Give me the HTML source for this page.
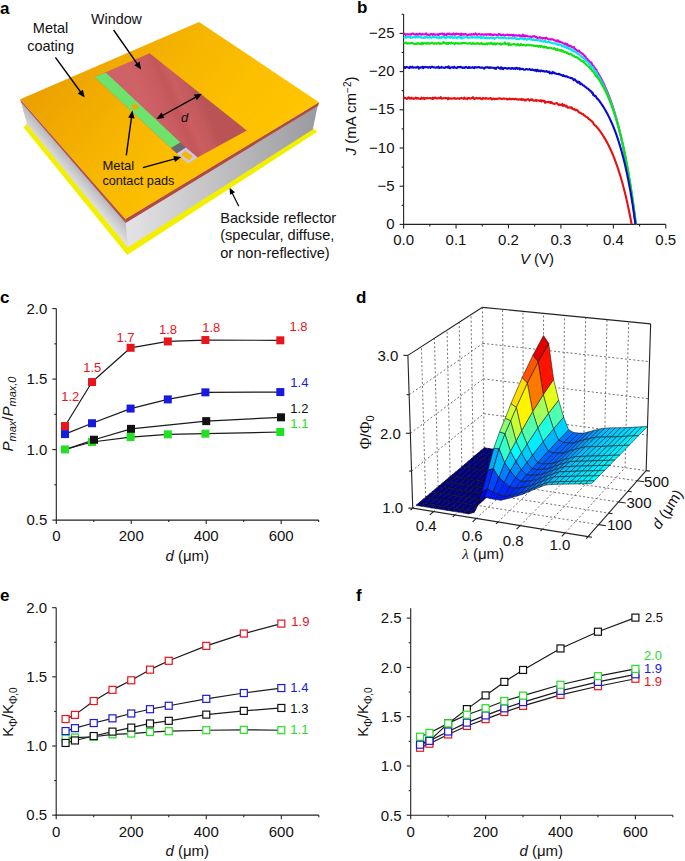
<!DOCTYPE html><html><head><meta charset="utf-8"><style>html,body{margin:0;padding:0;background:#fff;}svg{display:block;}</style></head><body>
<svg width="685" height="861" viewBox="0 0 685 861" font-family="'Liberation Sans', sans-serif">
<rect width="685" height="861" fill="#fff"/>
<defs>
<linearGradient id="gTop" x1="60" y1="60" x2="230" y2="200" gradientUnits="userSpaceOnUse">
 <stop offset="0" stop-color="#EBA100"/><stop offset="0.4" stop-color="#F6B400"/><stop offset="0.72" stop-color="#FDBF00"/><stop offset="1" stop-color="#FFC500"/></linearGradient>
<linearGradient id="gLeft" x1="73" y1="160" x2="58" y2="173" gradientUnits="userSpaceOnUse">
 <stop offset="0" stop-color="#b4b4b8"/><stop offset="0.4" stop-color="#cdcdd0"/><stop offset="1" stop-color="#ececee"/></linearGradient>
<linearGradient id="gRight" x1="0" y1="0" x2="1" y2="0">
 <stop offset="0" stop-color="#e4e4e6"/><stop offset="1" stop-color="#9a9a9e"/></linearGradient>
<linearGradient id="gWin" x1="148" y1="113" x2="199" y2="91" gradientUnits="userSpaceOnUse">
 <stop offset="0" stop-color="#CF6266"/><stop offset="0.35" stop-color="#C95C60"/><stop offset="0.5" stop-color="#C25659"/><stop offset="0.65" stop-color="#CA5E61"/><stop offset="0.85" stop-color="#C35A5D"/><stop offset="1" stop-color="#B95356"/></linearGradient>
</defs>
<polygon points="27.00,123.50 23.60,127.60 127.20,255.00 317.30,131.70 313.50,128.50" fill="#F2F000" stroke="none" stroke-width="0" />
<polygon points="124.80,219.00 319.00,102.20 317.60,106.20 312.80,129.50 127.40,247.80" fill="url(#gRight)" stroke="none" stroke-width="0" />
<polygon points="20.20,99.20 125.40,219.00 128.00,247.50 27.00,124.50" fill="url(#gLeft)" stroke="none" stroke-width="0" />
<polygon points="20.20,99.20 125.40,219.00 125.60,223.00 21.00,102.00" fill="#B5524A" stroke="none" stroke-width="0" />
<polygon points="125.40,219.00 319.00,102.20 318.20,105.80 125.60,223.00" fill="#B04A44" stroke="none" stroke-width="0" />
<polygon points="199.00,22.00 319.00,102.20 125.40,219.00 20.20,99.20" fill="url(#gTop)" stroke="none" stroke-width="0" />
<polygon points="94.60,77.10 149.60,53.20 246.80,130.60 197.60,157.40 176.80,153.40" fill="url(#gWin)" stroke="none" stroke-width="0" />
<polygon points="94.60,77.10 105.70,72.40 180.40,142.40 171.00,147.90" fill="#6DE36D" stroke="none" stroke-width="0" />
<polygon points="130.80,106.00 135.60,103.40 139.00,107.20 134.20,110.20" fill="#F2A800" stroke="none" stroke-width="0" />
<polygon points="171.00,147.90 180.40,142.40 185.80,147.40 176.80,153.20" fill="#6a6a6e" stroke="none" stroke-width="0" />
<polygon points="185.90,147.50 197.60,157.40 188.10,163.60 176.80,153.40" fill="#C9C8EE" stroke="none" stroke-width="0" />
<polygon points="185.00,150.80 193.00,156.00 189.00,160.40 181.20,154.80" fill="#F8B800" stroke="none" stroke-width="0" />
<line x1="55.40" y1="57.40" x2="81.17" y2="92.75" stroke="#000" stroke-width="1.4" />
<polygon points="84.70,97.60 77.70,93.42 82.87,89.65" fill="#000" stroke="none" stroke-width="0" />
<line x1="113.60" y1="30.00" x2="137.77" y2="64.68" stroke="#000" stroke-width="1.4" />
<polygon points="141.20,69.60 134.29,65.28 139.54,61.62" fill="#000" stroke="none" stroke-width="0" />
<line x1="161.65" y1="115.99" x2="196.65" y2="96.61" stroke="#000" stroke-width="1.4" />
<polygon points="201.90,93.70 196.89,100.13 193.79,94.53" fill="#000" stroke="none" stroke-width="0" />
<polygon points="156.40,118.90 164.51,118.07 161.41,112.47" fill="#000" stroke="none" stroke-width="0" />
<line x1="126.30" y1="155.30" x2="131.59" y2="116.54" stroke="#000" stroke-width="1.4" />
<polygon points="132.40,110.60 134.56,118.46 128.22,117.60" fill="#000" stroke="none" stroke-width="0" />
<line x1="142.90" y1="167.60" x2="175.62" y2="158.59" stroke="#000" stroke-width="1.4" />
<polygon points="181.40,157.00 175.02,162.08 173.32,155.91" fill="#000" stroke="none" stroke-width="0" />
<line x1="238.80" y1="206.20" x2="231.93" y2="192.45" stroke="#000" stroke-width="1.2" />
<polygon points="229.60,187.80 235.01,192.36 230.00,194.87" fill="#000" stroke="none" stroke-width="0" />
<text x="0.0" y="13.5" font-size="17" text-anchor="start" fill="#000" font-weight="bold" >a</text>
<text x="50.6" y="32.8" font-size="14.5" text-anchor="middle" fill="#111" >Metal</text>
<text x="50.6" y="51.0" font-size="14.5" text-anchor="middle" fill="#111" >coating</text>
<text x="116.5" y="23.6" font-size="14.3" text-anchor="middle" fill="#111" >Window</text>
<text x="184.5" y="122.0" font-size="13" text-anchor="middle" fill="#111" font-style="italic" >d</text>
<text x="102.4" y="169.8" font-size="13.0" text-anchor="start" fill="#111" >Metal</text>
<text x="102.4" y="184.9" font-size="12.7" text-anchor="start" fill="#111" >contact pads</text>
<text x="220.2" y="222.9" font-size="14.6" text-anchor="start" fill="#111" >Backside reflector</text>
<text x="220.2" y="240.3" font-size="14.6" text-anchor="start" fill="#111" >(specular, diffuse,</text>
<text x="220.2" y="257.7" font-size="14.6" text-anchor="start" fill="#111" >or non-reflective)</text>
<line x1="403.60" y1="14.30" x2="403.60" y2="224.90" stroke="#222" stroke-width="1.1" />
<line x1="403.10" y1="224.40" x2="665.80" y2="224.40" stroke="#222" stroke-width="1.1" />
<line x1="399.60" y1="224.40" x2="403.60" y2="224.40" stroke="#222" stroke-width="1.1" />
<line x1="401.60" y1="205.30" x2="403.60" y2="205.30" stroke="#222" stroke-width="1.1" />
<line x1="399.60" y1="186.20" x2="403.60" y2="186.20" stroke="#222" stroke-width="1.1" />
<line x1="401.60" y1="167.10" x2="403.60" y2="167.10" stroke="#222" stroke-width="1.1" />
<line x1="399.60" y1="148.00" x2="403.60" y2="148.00" stroke="#222" stroke-width="1.1" />
<line x1="401.60" y1="128.90" x2="403.60" y2="128.90" stroke="#222" stroke-width="1.1" />
<line x1="399.60" y1="109.80" x2="403.60" y2="109.80" stroke="#222" stroke-width="1.1" />
<line x1="401.60" y1="90.70" x2="403.60" y2="90.70" stroke="#222" stroke-width="1.1" />
<line x1="399.60" y1="71.60" x2="403.60" y2="71.60" stroke="#222" stroke-width="1.1" />
<line x1="401.60" y1="52.50" x2="403.60" y2="52.50" stroke="#222" stroke-width="1.1" />
<line x1="399.60" y1="33.40" x2="403.60" y2="33.40" stroke="#222" stroke-width="1.1" />
<line x1="401.60" y1="14.30" x2="403.60" y2="14.30" stroke="#222" stroke-width="1.1" />
<line x1="403.60" y1="224.40" x2="403.60" y2="228.40" stroke="#222" stroke-width="1.1" />
<line x1="429.82" y1="224.40" x2="429.82" y2="226.40" stroke="#222" stroke-width="1.1" />
<line x1="456.04" y1="224.40" x2="456.04" y2="228.40" stroke="#222" stroke-width="1.1" />
<line x1="482.26" y1="224.40" x2="482.26" y2="226.40" stroke="#222" stroke-width="1.1" />
<line x1="508.48" y1="224.40" x2="508.48" y2="228.40" stroke="#222" stroke-width="1.1" />
<line x1="534.70" y1="224.40" x2="534.70" y2="226.40" stroke="#222" stroke-width="1.1" />
<line x1="560.92" y1="224.40" x2="560.92" y2="228.40" stroke="#222" stroke-width="1.1" />
<line x1="587.14" y1="224.40" x2="587.14" y2="226.40" stroke="#222" stroke-width="1.1" />
<line x1="613.36" y1="224.40" x2="613.36" y2="228.40" stroke="#222" stroke-width="1.1" />
<line x1="639.58" y1="224.40" x2="639.58" y2="226.40" stroke="#222" stroke-width="1.1" />
<line x1="665.80" y1="224.40" x2="665.80" y2="228.40" stroke="#222" stroke-width="1.1" />
<text x="394.5" y="229.0" font-size="15" text-anchor="end" fill="#111" >0</text>
<text x="394.5" y="190.8" font-size="15" text-anchor="end" fill="#111" >−5</text>
<text x="394.5" y="152.6" font-size="15" text-anchor="end" fill="#111" >−10</text>
<text x="394.5" y="114.4" font-size="15" text-anchor="end" fill="#111" >−15</text>
<text x="394.5" y="76.2" font-size="15" text-anchor="end" fill="#111" >−20</text>
<text x="394.5" y="38.0" font-size="15" text-anchor="end" fill="#111" >−25</text>
<text x="403.6" y="245.2" font-size="15" text-anchor="middle" fill="#111" >0.0</text>
<text x="456.0" y="245.2" font-size="15" text-anchor="middle" fill="#111" >0.1</text>
<text x="508.5" y="245.2" font-size="15" text-anchor="middle" fill="#111" >0.2</text>
<text x="560.9" y="245.2" font-size="15" text-anchor="middle" fill="#111" >0.3</text>
<text x="613.4" y="245.2" font-size="15" text-anchor="middle" fill="#111" >0.4</text>
<text x="665.8" y="245.2" font-size="15" text-anchor="middle" fill="#111" >0.5</text>
<text x="537.0" y="264.4" font-size="15" text-anchor="middle" fill="#111" ><tspan font-style="italic">V</tspan> (V)</text>
<text transform="translate(355.6,116) rotate(-90)" font-size="15" text-anchor="middle" fill="#111"><tspan font-style="italic">J</tspan> (mA cm<tspan dy="-5" font-size="10">−2</tspan><tspan dy="5">)</tspan></text>
<text x="357.0" y="13.3" font-size="17" text-anchor="start" fill="#000" font-weight="bold" >b</text>
<polyline points="403.60,33.42 404.33,33.99 405.05,34.13 405.78,34.96 406.51,34.29 407.24,34.33 407.96,34.21 408.69,34.44 409.42,34.20 410.15,34.38 410.87,34.73 411.60,33.81 412.33,33.81 413.05,33.46 413.78,34.16 414.51,34.35 415.24,34.41 415.96,34.83 416.69,33.77 417.42,34.65 418.15,34.68 418.87,34.27 419.60,33.56 420.33,34.09 421.05,34.62 421.78,34.49 422.51,33.92 423.24,34.26 423.96,34.51 424.69,34.29 425.42,33.88 426.14,33.36 426.87,34.72 427.60,34.46 428.33,34.53 429.05,35.21 429.78,34.58 430.51,34.63 431.24,33.73 431.96,34.25 432.69,34.88 433.42,33.93 434.14,34.35 434.87,34.94 435.60,34.46 436.33,34.45 437.05,34.58 437.78,34.20 438.51,35.16 439.24,34.32 439.96,33.79 440.69,33.86 441.42,33.75 442.14,33.75 442.87,33.59 443.60,34.69 444.33,33.87 445.05,35.01 445.78,34.48 446.51,35.03 447.24,33.79 447.96,33.67 448.69,34.32 449.42,33.49 450.14,34.52 450.87,34.18 451.60,34.18 452.33,34.69 453.05,34.07 453.78,33.44 454.51,34.69 455.24,33.88 455.96,34.33 456.69,33.52 457.42,34.06 458.14,33.99 458.87,34.00 459.60,34.17 460.33,34.87 461.05,33.70 461.78,34.86 462.51,34.19 463.23,34.04 463.96,34.65 464.69,34.24 465.42,33.82 466.14,34.32 466.87,34.69 467.60,35.55 468.33,34.74 469.05,34.58 469.78,34.56 470.51,34.75 471.23,34.19 471.96,34.60 472.69,34.41 473.42,34.08 474.14,34.73 474.87,34.51 475.60,33.48 476.33,34.03 477.05,34.94 477.78,34.44 478.51,34.18 479.23,33.91 479.96,34.37 480.69,34.66 481.42,34.76 482.14,34.19 482.87,34.34 483.60,34.69 484.33,34.57 485.05,34.67 485.78,34.20 486.51,34.81 487.23,34.32 487.96,34.18 488.69,34.35 489.42,34.91 490.14,34.01 490.87,34.87 491.60,34.42 492.33,34.93 493.05,35.36 493.78,34.55 494.51,34.54 495.23,34.71 495.96,34.57 496.69,34.98 497.42,35.03 498.14,34.81 498.87,33.96 499.60,34.43 500.33,35.01 501.05,34.58 501.78,35.04 502.51,35.05 503.23,34.52 503.96,35.12 504.69,35.63 505.42,35.33 506.14,34.93 506.87,34.94 507.60,34.50 508.32,35.35 509.05,34.77 509.78,34.93 510.51,35.20 511.23,34.81 511.96,34.99 512.69,35.59 513.42,34.81 514.14,35.81 514.87,35.31 515.60,35.37 516.32,35.23 517.05,35.75 517.78,35.50 518.51,35.58 519.23,35.15 519.96,35.95 520.69,35.63 521.42,35.81 522.14,36.30 522.87,34.68 523.60,35.88 524.32,36.53 525.05,35.37 525.78,36.46 526.51,35.92 527.23,35.77 527.96,36.46 528.69,36.44 529.42,36.55 530.14,36.44 530.87,37.14 531.60,37.05 532.32,36.66 533.05,36.24 533.78,36.49 534.51,36.11 535.23,36.63 535.96,37.22 536.69,37.15 537.42,38.04 538.14,37.68 538.87,37.81 539.60,37.36 540.32,37.31 541.05,37.92 541.78,38.05 542.51,38.56 543.23,38.08 543.96,38.04 544.69,38.08 545.41,38.73 546.14,37.70 546.87,38.17 547.60,38.85 548.32,39.17 549.05,39.24 549.78,39.19 550.51,39.42 551.23,39.38 551.96,39.42 552.69,39.35 553.41,39.62 554.14,40.33 554.87,40.31 555.60,40.84 556.32,41.12 557.05,40.28 557.78,41.49 558.51,40.69 559.23,41.90 559.96,41.88 560.69,41.78 561.41,42.47 562.14,42.58 562.87,43.11 563.60,43.49 564.32,43.64 565.05,44.14 565.78,43.48 566.51,44.55 567.23,44.08 567.96,46.26 568.69,45.46 569.41,45.59 570.14,46.31 570.87,46.10 571.60,46.68 572.32,47.46 573.05,47.57 573.78,47.00 574.51,48.51 575.23,48.94 575.96,49.72 576.69,49.96 577.41,51.05 578.14,51.10 578.87,50.51 579.60,51.63 580.32,52.37 581.05,52.75 581.78,53.02 582.50,54.17 583.23,54.18 583.96,55.25 584.69,56.30 585.41,56.34 586.14,58.77 586.87,58.75 587.60,59.16 588.32,60.44 589.05,60.93 589.78,61.96 590.50,62.83 591.23,62.30 591.96,64.09 592.69,65.31 593.41,65.71 594.14,67.36 594.87,67.92 595.60,69.21 596.32,69.77 597.05,72.18 597.78,72.75 598.50,73.95 599.23,75.19 599.96,76.47 600.69,77.78 601.41,79.14 602.14,80.54 602.87,81.99 603.60,83.48 604.32,85.02 605.05,86.60 605.78,88.23 606.50,89.92 607.23,91.66 607.96,93.45 608.69,95.30 609.41,97.20 610.14,99.16 610.87,101.19 611.60,103.28 612.32,105.43 613.05,107.65 613.78,109.94 614.50,112.30 615.23,114.74 615.96,117.25 616.69,119.84 617.41,122.51 618.14,125.26 618.87,128.10 619.59,131.02 620.32,134.04 621.05,137.15 621.78,140.36 622.50,143.67 623.23,147.08 623.96,150.60 624.69,154.23 625.41,157.97 626.14,161.83 626.87,165.81 627.59,169.91 628.32,174.14 629.05,178.50 629.78,182.99 630.50,187.63 631.23,192.41 631.96,197.34 632.69,202.43 633.41,207.67 634.14,213.08 634.87,218.65 635.59,224.40" fill="none" stroke="#E000E0" stroke-width="2.1" stroke-linejoin="round" />
<polyline points="403.60,36.91 404.33,37.18 405.06,37.72 405.79,36.78 406.51,37.60 407.24,36.55 407.97,37.02 408.70,36.94 409.43,37.20 410.16,36.85 410.88,38.02 411.61,37.20 412.34,37.50 413.07,37.12 413.80,37.26 414.53,36.98 415.25,37.59 415.98,36.47 416.71,36.27 417.44,37.33 418.17,37.25 418.90,37.12 419.62,36.71 420.35,36.45 421.08,37.75 421.81,37.50 422.54,37.69 423.27,37.71 424.00,37.93 424.72,37.09 425.45,37.73 426.18,36.62 426.91,36.87 427.64,37.68 428.37,37.68 429.09,37.51 429.82,36.66 430.55,37.61 431.28,37.88 432.01,37.28 432.74,37.10 433.46,37.53 434.19,36.58 434.92,37.16 435.65,37.07 436.38,37.62 437.11,37.28 437.84,37.33 438.56,38.22 439.29,37.15 440.02,38.02 440.75,37.28 441.48,37.89 442.21,36.43 442.93,37.14 443.66,36.92 444.39,36.89 445.12,37.84 445.85,38.24 446.58,37.43 447.30,36.91 448.03,37.25 448.76,36.96 449.49,36.90 450.22,37.92 450.95,37.18 451.67,36.48 452.40,37.55 453.13,38.16 453.86,37.41 454.59,37.51 455.32,37.14 456.05,37.69 456.77,37.28 457.50,38.26 458.23,36.97 458.96,36.67 459.69,36.79 460.42,37.98 461.14,37.21 461.87,38.60 462.60,37.23 463.33,37.38 464.06,37.78 464.79,37.22 465.51,37.31 466.24,36.98 466.97,37.32 467.70,37.28 468.43,38.20 469.16,37.88 469.88,37.60 470.61,37.28 471.34,37.41 472.07,36.78 472.80,37.79 473.53,37.53 474.26,37.33 474.98,37.54 475.71,37.24 476.44,37.69 477.17,36.86 477.90,37.60 478.63,37.01 479.35,37.50 480.08,36.87 480.81,38.09 481.54,37.29 482.27,37.70 483.00,37.43 483.72,37.04 484.45,38.03 485.18,38.11 485.91,37.99 486.64,37.47 487.37,38.38 488.10,37.56 488.82,38.15 489.55,38.11 490.28,37.79 491.01,37.49 491.74,37.93 492.47,37.88 493.19,37.71 493.92,37.82 494.65,38.85 495.38,37.92 496.11,37.72 496.84,37.31 497.56,36.93 498.29,37.52 499.02,37.79 499.75,38.25 500.48,37.82 501.21,37.55 501.93,37.37 502.66,38.29 503.39,37.84 504.12,37.62 504.85,37.21 505.58,37.91 506.31,38.26 507.03,38.35 507.76,38.24 508.49,38.39 509.22,37.80 509.95,37.72 510.68,37.90 511.40,37.73 512.13,38.45 512.86,38.14 513.59,38.49 514.32,38.34 515.05,37.88 515.77,38.45 516.50,39.26 517.23,38.62 517.96,38.85 518.69,39.23 519.42,38.97 520.15,38.28 520.87,38.02 521.60,38.98 522.33,38.40 523.06,38.37 523.79,39.41 524.52,38.99 525.24,39.05 525.97,39.01 526.70,39.81 527.43,39.35 528.16,38.82 528.89,38.79 529.61,38.62 530.34,39.60 531.07,38.74 531.80,39.32 532.53,40.24 533.26,39.43 533.98,39.97 534.71,39.69 535.44,40.03 536.17,39.57 536.90,40.06 537.63,40.38 538.36,39.95 539.08,40.34 539.81,40.72 540.54,40.11 541.27,40.93 542.00,41.13 542.73,41.21 543.45,41.71 544.18,41.45 544.91,40.56 545.64,41.85 546.37,41.60 547.10,42.20 547.82,42.13 548.55,41.38 549.28,41.79 550.01,42.58 550.74,42.48 551.47,42.99 552.19,43.14 552.92,43.37 553.65,43.54 554.38,43.21 555.11,43.29 555.84,43.53 556.57,44.01 557.29,44.71 558.02,44.39 558.75,44.97 559.48,44.44 560.21,44.81 560.94,44.97 561.66,45.68 562.39,46.55 563.12,45.66 563.85,45.82 564.58,47.24 565.31,46.85 566.03,46.71 566.76,47.97 567.49,47.09 568.22,48.31 568.95,48.96 569.68,48.28 570.41,49.09 571.13,49.86 571.86,49.60 572.59,51.19 573.32,50.01 574.05,51.54 574.78,51.51 575.50,52.24 576.23,52.35 576.96,52.64 577.69,53.84 578.42,53.67 579.15,54.65 579.87,55.35 580.60,55.71 581.33,56.60 582.06,57.10 582.79,56.98 583.52,58.06 584.24,58.17 584.97,59.13 585.70,60.43 586.43,61.50 587.16,61.72 587.89,62.07 588.62,62.95 589.34,64.10 590.07,64.15 590.80,66.15 591.53,66.82 592.26,67.14 592.99,67.20 593.71,68.91 594.44,70.49 595.17,70.84 595.90,71.85 596.63,72.83 597.36,74.51 598.08,75.49 598.81,76.67 599.54,77.90 600.27,79.16 601.00,80.46 601.73,81.80 602.45,83.18 603.18,84.61 603.91,86.07 604.64,87.59 605.37,89.15 606.10,90.76 606.83,92.42 607.55,94.13 608.28,95.89 609.01,97.71 609.74,99.59 610.47,101.52 611.20,103.52 611.92,105.57 612.65,107.69 613.38,109.87 614.11,112.13 614.84,114.45 615.57,116.84 616.29,119.31 617.02,121.85 617.75,124.48 618.48,127.18 619.21,129.97 619.94,132.85 620.67,135.81 621.39,138.87 622.12,142.02 622.85,145.27 623.58,148.62 624.31,152.07 625.04,155.63 625.76,159.30 626.49,163.08 627.22,166.99 627.95,171.01 628.68,175.16 629.41,179.43 630.13,183.84 630.86,188.39 631.59,193.07 632.32,197.90 633.05,202.88 633.78,208.02 634.50,213.31 635.23,218.77 635.96,224.40" fill="none" stroke="#00E5F0" stroke-width="2.1" stroke-linejoin="round" />
<polyline points="403.60,43.68 404.33,43.29 405.06,43.17 405.79,42.67 406.51,42.47 407.24,43.65 407.97,43.56 408.70,43.37 409.43,43.45 410.16,43.14 410.88,43.14 411.61,43.24 412.34,42.78 413.07,43.41 413.80,43.79 414.53,44.00 415.25,43.78 415.98,43.79 416.71,44.14 417.44,43.07 418.17,43.27 418.90,43.53 419.62,43.73 420.35,44.02 421.08,43.74 421.81,42.58 422.54,44.28 423.27,43.30 423.99,43.04 424.72,43.30 425.45,43.49 426.18,43.03 426.91,43.82 427.64,43.13 428.36,42.76 429.09,43.80 429.82,43.71 430.55,43.31 431.28,42.95 432.01,42.80 432.73,43.08 433.46,43.65 434.19,43.84 434.92,43.27 435.65,43.20 436.38,43.83 437.10,43.35 437.83,43.23 438.56,42.94 439.29,43.79 440.02,43.14 440.75,43.87 441.47,43.56 442.20,43.42 442.93,42.75 443.66,41.99 444.39,43.28 445.12,43.18 445.84,42.97 446.57,43.96 447.30,43.07 448.03,43.92 448.76,42.71 449.49,42.79 450.21,43.19 450.94,43.74 451.67,42.71 452.40,43.30 453.13,43.37 453.86,43.17 454.58,44.14 455.31,43.24 456.04,43.00 456.77,43.28 457.50,43.37 458.23,43.83 458.95,43.16 459.68,43.35 460.41,43.44 461.14,43.68 461.87,43.09 462.60,42.93 463.32,43.29 464.05,43.08 464.78,42.90 465.51,42.80 466.24,43.37 466.97,43.56 467.69,43.65 468.42,43.48 469.15,43.26 469.88,43.10 470.61,43.68 471.34,43.44 472.06,43.93 472.79,42.98 473.52,43.68 474.25,43.37 474.98,43.83 475.71,43.66 476.43,43.83 477.16,42.83 477.89,43.40 478.62,43.63 479.35,43.97 480.08,43.83 480.80,43.35 481.53,42.89 482.26,44.20 482.99,43.99 483.72,43.69 484.45,43.89 485.17,44.33 485.90,43.64 486.63,43.34 487.36,44.33 488.09,43.59 488.82,43.28 489.54,43.28 490.27,43.88 491.00,42.75 491.73,43.50 492.46,44.09 493.19,43.34 493.91,44.24 494.64,43.41 495.37,44.33 496.10,43.48 496.83,44.07 497.56,43.37 498.28,43.55 499.01,43.69 499.74,43.87 500.47,43.45 501.20,44.68 501.93,43.76 502.65,43.79 503.38,43.75 504.11,43.66 504.84,42.47 505.57,44.00 506.30,43.73 507.02,44.03 507.75,43.45 508.48,44.99 509.21,43.45 509.94,44.48 510.67,45.17 511.39,44.70 512.12,44.35 512.85,44.22 513.58,44.35 514.31,44.02 515.04,44.41 515.76,44.45 516.49,45.36 517.22,44.29 517.95,44.11 518.68,44.75 519.41,45.40 520.13,45.21 520.86,43.98 521.59,44.98 522.32,45.05 523.05,45.16 523.78,44.58 524.50,45.16 525.23,45.33 525.96,45.64 526.69,45.11 527.42,44.70 528.15,45.23 528.87,44.86 529.60,45.21 530.33,45.29 531.06,45.34 531.79,45.46 532.52,45.11 533.24,45.41 533.97,45.92 534.70,45.70 535.43,45.86 536.16,45.70 536.89,45.91 537.61,45.90 538.34,46.78 539.07,46.08 539.80,45.78 540.53,46.99 541.26,45.85 541.98,46.50 542.71,46.81 543.44,47.59 544.17,46.48 544.90,47.46 545.63,47.38 546.35,47.05 547.08,47.84 547.81,47.95 548.54,48.15 549.27,47.84 550.00,47.69 550.72,47.91 551.45,48.05 552.18,48.52 552.91,48.47 553.64,48.98 554.37,48.02 555.09,48.95 555.82,50.03 556.55,49.84 557.28,48.91 558.01,50.35 558.74,50.16 559.46,50.01 560.19,50.86 560.92,50.17 561.65,50.14 562.38,51.42 563.11,50.84 563.83,51.94 564.56,52.24 565.29,51.98 566.02,52.26 566.75,52.89 567.48,52.57 568.20,53.84 568.93,53.89 569.66,54.30 570.39,53.86 571.12,54.18 571.85,54.58 572.58,55.77 573.30,55.54 574.03,55.78 574.76,57.05 575.49,57.12 576.22,56.92 576.95,57.33 577.67,57.96 578.40,58.30 579.13,58.87 579.86,59.43 580.59,60.04 581.32,60.88 582.04,61.16 582.77,61.78 583.50,61.20 584.23,62.66 584.96,63.38 585.69,64.10 586.41,64.69 587.14,65.42 587.87,65.77 588.60,66.72 589.33,67.10 590.06,68.49 590.78,68.82 591.51,69.41 592.24,71.09 592.97,71.39 593.70,72.24 594.43,73.39 595.15,74.39 595.88,75.94 596.61,75.67 597.34,77.58 598.07,78.25 598.80,79.35 599.52,80.48 600.25,81.65 600.98,82.86 601.71,84.10 602.44,85.39 603.17,86.72 603.89,88.09 604.62,89.50 605.35,90.96 606.08,92.46 606.81,94.02 607.54,95.62 608.26,97.28 608.99,98.99 609.72,100.75 610.45,102.58 611.18,104.46 611.91,106.40 612.63,108.41 613.36,110.48 614.09,112.62 614.82,114.83 615.55,117.12 616.28,119.48 617.00,121.91 617.73,124.43 618.46,127.03 619.19,129.72 619.92,132.49 620.65,135.36 621.37,138.33 622.10,141.39 622.83,144.56 623.56,147.84 624.29,151.22 625.02,154.72 625.74,158.34 626.47,162.08 627.20,165.96 627.93,169.96 628.66,174.10 629.39,178.39 630.11,182.82 630.84,187.41 631.57,192.16 632.30,197.07 633.03,202.16 633.76,207.43 634.48,212.89 635.21,218.54 635.94,224.40" fill="none" stroke="#10E010" stroke-width="2.1" stroke-linejoin="round" />
<polyline points="403.60,67.86 404.33,67.06 405.05,68.11 405.78,66.94 406.51,67.16 407.23,67.09 407.96,67.41 408.69,67.86 409.41,68.14 410.14,66.73 410.87,67.54 411.60,67.56 412.32,66.68 413.05,67.61 413.78,67.45 414.50,67.45 415.23,67.41 415.96,67.79 416.68,67.59 417.41,66.81 418.14,67.03 418.86,68.61 419.59,68.18 420.32,67.22 421.04,67.41 421.77,67.52 422.50,66.92 423.22,68.11 423.95,66.86 424.68,67.31 425.41,67.13 426.13,67.26 426.86,67.01 427.59,67.47 428.31,67.60 429.04,67.04 429.77,67.30 430.49,67.90 431.22,66.81 431.95,66.87 432.67,66.77 433.40,67.35 434.13,67.23 434.85,67.54 435.58,67.79 436.31,67.36 437.03,67.31 437.76,67.67 438.49,66.62 439.22,68.07 439.94,67.74 440.67,67.68 441.40,66.86 442.12,67.51 442.85,67.54 443.58,67.78 444.30,67.73 445.03,67.96 445.76,66.99 446.48,67.16 447.21,67.00 447.94,67.70 448.66,66.37 449.39,67.84 450.12,68.29 450.84,67.56 451.57,67.38 452.30,67.12 453.03,67.87 453.75,67.20 454.48,66.73 455.21,67.81 455.93,67.77 456.66,68.18 457.39,67.36 458.11,67.11 458.84,67.15 459.57,67.13 460.29,66.89 461.02,67.43 461.75,67.09 462.47,67.90 463.20,67.83 463.93,67.41 464.65,67.86 465.38,67.28 466.11,66.95 466.84,67.36 467.56,67.84 468.29,67.85 469.02,66.97 469.74,67.89 470.47,67.52 471.20,67.67 471.92,67.55 472.65,67.12 473.38,67.81 474.10,68.19 474.83,66.99 475.56,67.52 476.28,67.31 477.01,67.63 477.74,67.31 478.47,67.11 479.19,67.08 479.92,67.78 480.65,67.82 481.37,67.52 482.10,67.60 482.83,67.46 483.55,68.01 484.28,68.70 485.01,67.55 485.73,67.42 486.46,67.49 487.19,67.07 487.91,67.43 488.64,67.96 489.37,67.40 490.09,67.86 490.82,67.31 491.55,67.75 492.28,67.68 493.00,67.79 493.73,67.88 494.46,68.54 495.18,67.91 495.91,68.90 496.64,67.76 497.36,67.57 498.09,67.14 498.82,67.86 499.54,68.34 500.27,68.73 501.00,67.26 501.72,68.70 502.45,67.75 503.18,69.12 503.90,68.19 504.63,67.91 505.36,68.08 506.09,68.26 506.81,68.62 507.54,68.68 508.27,67.90 508.99,68.17 509.72,68.45 510.45,68.33 511.17,68.83 511.90,68.05 512.63,67.98 513.35,68.87 514.08,68.53 514.81,68.17 515.53,68.92 516.26,67.83 516.99,68.09 517.71,68.88 518.44,68.39 519.17,68.15 519.90,69.41 520.62,68.67 521.35,69.04 522.08,69.11 522.80,68.77 523.53,69.32 524.26,69.76 524.98,69.82 525.71,69.28 526.44,69.07 527.16,69.40 527.89,69.51 528.62,69.52 529.34,69.02 530.07,69.41 530.80,70.01 531.52,69.88 532.25,69.32 532.98,70.14 533.71,70.14 534.43,70.06 535.16,70.57 535.89,69.83 536.61,71.21 537.34,69.76 538.07,70.64 538.79,71.07 539.52,70.52 540.25,71.45 540.97,70.60 541.70,70.60 542.43,71.27 543.15,71.29 543.88,70.84 544.61,71.63 545.33,71.45 546.06,71.43 546.79,71.04 547.52,72.03 548.24,71.93 548.97,71.60 549.70,73.29 550.42,72.46 551.15,73.30 551.88,73.41 552.60,71.97 553.33,72.86 554.06,72.48 554.78,73.37 555.51,73.21 556.24,73.79 556.96,74.02 557.69,74.00 558.42,74.10 559.14,73.71 559.87,74.63 560.60,74.60 561.33,75.07 562.05,75.12 562.78,75.96 563.51,75.18 564.23,76.09 564.96,76.10 565.69,76.45 566.41,76.21 567.14,76.67 567.87,77.15 568.59,77.36 569.32,77.58 570.05,77.70 570.77,78.11 571.50,78.10 572.23,78.28 572.95,79.04 573.68,80.19 574.41,79.25 575.14,79.45 575.86,80.87 576.59,81.28 577.32,82.36 578.04,81.58 578.77,82.75 579.50,81.98 580.22,84.24 580.95,83.62 581.68,83.84 582.40,84.77 583.13,85.43 583.86,85.51 584.58,86.36 585.31,86.82 586.04,87.25 586.76,88.05 587.49,88.50 588.22,88.68 588.95,89.80 589.67,90.22 590.40,91.27 591.13,91.25 591.85,92.88 592.58,92.67 593.31,95.09 594.03,94.97 594.76,96.06 595.49,95.78 596.21,96.94 596.94,98.47 597.67,98.82 598.39,99.74 599.12,100.69 599.85,101.67 600.57,102.69 601.30,103.73 602.03,104.81 602.76,105.91 603.48,107.06 604.21,108.24 604.94,109.46 605.66,110.71 606.39,112.01 607.12,113.34 607.84,114.72 608.57,116.14 609.30,117.61 610.02,119.13 610.75,120.69 611.48,122.31 612.20,123.98 612.93,125.70 613.66,127.49 614.38,129.33 615.11,131.23 615.84,133.19 616.57,135.23 617.29,137.33 618.02,139.50 618.75,141.75 619.47,144.08 620.20,146.49 620.93,148.98 621.65,151.56 622.38,154.24 623.11,157.01 623.83,159.88 624.56,162.85 625.29,165.94 626.01,169.14 626.74,172.46 627.47,175.91 628.20,179.50 628.92,183.22 629.65,187.09 630.38,191.11 631.10,195.30 631.83,199.66 632.56,204.20 633.28,208.93 634.01,213.87 634.74,219.02 635.46,224.40" fill="none" stroke="#0A0AD0" stroke-width="2.1" stroke-linejoin="round" />
<polyline points="403.60,98.44 404.31,97.64 405.03,98.23 405.74,97.97 406.46,98.84 407.17,98.84 407.89,97.96 408.60,97.24 409.32,98.43 410.03,97.96 410.75,98.61 411.46,97.68 412.18,98.40 412.89,98.39 413.61,99.01 414.32,98.39 415.04,98.14 415.75,97.64 416.47,98.71 417.18,97.80 417.90,98.36 418.61,98.34 419.33,98.62 420.04,98.94 420.76,98.73 421.47,97.54 422.19,98.72 422.90,98.41 423.61,97.76 424.33,99.12 425.04,98.04 425.76,98.45 426.47,98.15 427.19,97.87 427.90,98.30 428.62,98.32 429.33,97.93 430.05,97.97 430.76,98.54 431.48,98.32 432.19,98.80 432.91,97.70 433.62,98.75 434.34,98.16 435.05,97.51 435.77,97.91 436.48,98.37 437.20,98.55 437.91,98.51 438.63,97.86 439.34,98.10 440.06,98.25 440.77,97.15 441.49,98.60 442.20,98.45 442.91,98.41 443.63,98.16 444.34,98.12 445.06,98.37 445.77,97.94 446.49,98.03 447.20,98.38 447.92,99.29 448.63,97.93 449.35,98.67 450.06,98.54 450.78,98.33 451.49,98.80 452.21,98.62 452.92,98.26 453.64,98.44 454.35,98.16 455.07,98.66 455.78,98.40 456.50,98.75 457.21,98.43 457.93,98.19 458.64,98.42 459.36,98.92 460.07,98.40 460.78,98.26 461.50,97.85 462.21,98.35 462.93,98.51 463.64,98.83 464.36,97.50 465.07,98.74 465.79,98.82 466.50,98.41 467.22,99.12 467.93,97.91 468.65,98.28 469.36,98.16 470.08,98.78 470.79,98.59 471.51,98.02 472.22,98.00 472.94,97.19 473.65,97.93 474.37,99.19 475.08,98.36 475.80,98.55 476.51,97.95 477.23,98.45 477.94,98.21 478.66,98.56 479.37,98.17 480.08,97.82 480.80,98.70 481.51,99.30 482.23,98.89 482.94,97.80 483.66,98.38 484.37,98.60 485.09,98.89 485.80,98.05 486.52,98.38 487.23,98.56 487.95,98.75 488.66,98.59 489.38,98.67 490.09,98.31 490.81,98.02 491.52,99.39 492.24,99.19 492.95,98.63 493.67,98.57 494.38,99.26 495.10,98.89 495.81,98.81 496.53,98.84 497.24,98.86 497.96,98.71 498.67,98.32 499.38,98.39 500.10,98.47 500.81,98.62 501.53,99.05 502.24,98.97 502.96,98.49 503.67,98.75 504.39,98.48 505.10,98.73 505.82,98.83 506.53,98.69 507.25,99.54 507.96,98.99 508.68,99.19 509.39,98.61 510.11,99.27 510.82,98.91 511.54,99.21 512.25,98.86 512.97,98.78 513.68,99.20 514.40,99.09 515.11,99.09 515.83,98.87 516.54,99.36 517.26,99.24 517.97,99.47 518.68,99.73 519.40,99.28 520.11,99.21 520.83,99.77 521.54,98.80 522.26,99.82 522.97,99.23 523.69,99.42 524.40,100.34 525.12,99.68 525.83,100.37 526.55,99.80 527.26,99.52 527.98,99.07 528.69,99.57 529.41,100.59 530.12,100.15 530.84,99.42 531.55,100.03 532.27,99.42 532.98,100.53 533.70,100.52 534.41,100.92 535.13,100.58 535.84,99.95 536.55,100.94 537.27,100.27 537.98,100.50 538.70,100.43 539.41,100.95 540.13,100.91 540.84,100.11 541.56,101.61 542.27,100.86 542.99,100.62 543.70,101.16 544.42,100.75 545.13,102.80 545.85,101.78 546.56,102.25 547.28,102.04 547.99,102.02 548.71,101.88 549.42,102.56 550.14,101.96 550.85,103.11 551.57,102.17 552.28,102.81 553.00,103.59 553.71,103.73 554.43,103.88 555.14,103.70 555.85,103.38 556.57,103.03 557.28,103.42 558.00,104.48 558.71,105.06 559.43,104.40 560.14,105.05 560.86,104.72 561.57,105.13 562.29,103.96 563.00,105.97 563.72,105.32 564.43,104.89 565.15,106.07 565.86,106.46 566.58,105.67 567.29,107.51 568.01,107.60 568.72,107.65 569.44,107.24 570.15,107.36 570.87,108.02 571.58,107.34 572.30,108.65 573.01,108.88 573.73,109.33 574.44,109.01 575.15,109.86 575.87,110.38 576.58,109.87 577.30,110.41 578.01,110.91 578.73,112.27 579.44,112.59 580.16,112.66 580.87,113.10 581.59,113.62 582.30,113.99 583.02,114.10 583.73,115.29 584.45,115.26 585.16,116.05 585.88,116.62 586.59,117.09 587.31,117.23 588.02,118.01 588.74,119.06 589.45,119.21 590.17,119.93 590.88,120.47 591.60,121.44 592.31,121.61 593.03,122.59 593.74,123.98 594.45,124.81 595.17,125.65 595.88,125.71 596.60,127.01 597.31,127.73 598.03,128.47 598.74,129.39 599.46,130.34 600.17,131.32 600.89,132.33 601.60,133.38 602.32,134.45 603.03,135.56 603.75,136.70 604.46,137.88 605.18,139.09 605.89,140.34 606.61,141.63 607.32,142.96 608.04,144.33 608.75,145.74 609.47,147.20 610.18,148.70 610.90,150.25 611.61,151.85 612.32,153.50 613.04,155.20 613.75,156.95 614.47,158.76 615.18,160.62 615.90,162.55 616.61,164.53 617.33,166.58 618.04,168.69 618.76,170.86 619.47,173.11 620.19,175.43 620.90,177.82 621.62,180.28 622.33,182.83 623.05,185.46 623.76,188.17 624.48,190.96 625.19,193.85 625.91,196.83 626.62,199.90 627.34,203.08 628.05,206.35 628.77,209.73 629.48,213.23 630.20,216.83 630.91,220.56 631.62,224.40" fill="none" stroke="#E81010" stroke-width="2.1" stroke-linejoin="round" />
<line x1="56.30" y1="308.60" x2="56.30" y2="520.60" stroke="#222" stroke-width="1.1" />
<line x1="55.80" y1="520.10" x2="318.66" y2="520.10" stroke="#222" stroke-width="1.1" />
<line x1="52.30" y1="520.10" x2="56.30" y2="520.10" stroke="#222" stroke-width="1.1" />
<line x1="52.30" y1="449.60" x2="56.30" y2="449.60" stroke="#222" stroke-width="1.1" />
<line x1="52.30" y1="379.10" x2="56.30" y2="379.10" stroke="#222" stroke-width="1.1" />
<line x1="52.30" y1="308.60" x2="56.30" y2="308.60" stroke="#222" stroke-width="1.1" />
<line x1="54.30" y1="484.85" x2="56.30" y2="484.85" stroke="#222" stroke-width="1.1" />
<line x1="54.30" y1="414.35" x2="56.30" y2="414.35" stroke="#222" stroke-width="1.1" />
<line x1="54.30" y1="343.85" x2="56.30" y2="343.85" stroke="#222" stroke-width="1.1" />
<line x1="56.30" y1="520.10" x2="56.30" y2="524.10" stroke="#222" stroke-width="1.1" />
<line x1="131.26" y1="520.10" x2="131.26" y2="524.10" stroke="#222" stroke-width="1.1" />
<line x1="206.22" y1="520.10" x2="206.22" y2="524.10" stroke="#222" stroke-width="1.1" />
<line x1="281.18" y1="520.10" x2="281.18" y2="524.10" stroke="#222" stroke-width="1.1" />
<line x1="93.78" y1="520.10" x2="93.78" y2="522.10" stroke="#222" stroke-width="1.1" />
<line x1="168.74" y1="520.10" x2="168.74" y2="522.10" stroke="#222" stroke-width="1.1" />
<line x1="243.70" y1="520.10" x2="243.70" y2="522.10" stroke="#222" stroke-width="1.1" />
<line x1="318.66" y1="520.10" x2="318.66" y2="522.10" stroke="#222" stroke-width="1.1" />
<text x="47.3" y="525.3" font-size="15" text-anchor="end" fill="#111" >0.5</text>
<text x="47.3" y="454.8" font-size="15" text-anchor="end" fill="#111" >1.0</text>
<text x="47.3" y="384.3" font-size="15" text-anchor="end" fill="#111" >1.5</text>
<text x="47.3" y="313.8" font-size="15" text-anchor="end" fill="#111" >2.0</text>
<text x="56.3" y="541.3" font-size="15" text-anchor="middle" fill="#111" >0</text>
<text x="131.3" y="541.3" font-size="15" text-anchor="middle" fill="#111" >200</text>
<text x="206.2" y="541.3" font-size="15" text-anchor="middle" fill="#111" >400</text>
<text x="281.2" y="541.3" font-size="15" text-anchor="middle" fill="#111" >600</text>
<text x="187.2" y="561.0" font-size="15" text-anchor="middle" fill="#111" ><tspan font-style="italic">d</tspan> (μm)</text>
<text transform="translate(12.6,414) rotate(-90)" font-size="15" text-anchor="middle" fill="#111"><tspan font-style="italic">P</tspan><tspan font-style="italic" font-size="11" dy="3">max</tspan><tspan dy="-3">/</tspan><tspan font-style="italic">P</tspan><tspan font-style="italic" font-size="11" dy="3">max,0</tspan></text>
<text x="0.0" y="302.5" font-size="17" text-anchor="start" fill="#000" font-weight="bold" >c</text>
<polyline points="65.00,449.46 92.02,441.99 130.59,437.05 167.80,434.37 205.40,433.67 280.32,431.98" fill="none" stroke="#1a1a1a" stroke-width="1.2" stroke-linejoin="round" />
<polyline points="65.00,449.60 94.00,439.73 131.00,428.87 206.22,421.12 280.99,417.31" fill="none" stroke="#1a1a1a" stroke-width="1.2" stroke-linejoin="round" />
<polyline points="65.00,434.09 92.02,423.23 130.59,408.57 167.80,399.40 205.40,392.35 280.32,392.07" fill="none" stroke="#1a1a1a" stroke-width="1.2" stroke-linejoin="round" />
<polyline points="65.00,426.05 92.02,382.06 130.59,347.80 167.80,341.45 205.40,340.04 280.32,340.33" fill="none" stroke="#1a1a1a" stroke-width="1.2" stroke-linejoin="round" />
<rect x="61.00" y="445.46" width="8" height="8" fill="#22E022"/>
<rect x="88.02" y="437.99" width="8" height="8" fill="#22E022"/>
<rect x="126.59" y="433.05" width="8" height="8" fill="#22E022"/>
<rect x="163.80" y="430.37" width="8" height="8" fill="#22E022"/>
<rect x="201.40" y="429.67" width="8" height="8" fill="#22E022"/>
<rect x="276.32" y="427.98" width="8" height="8" fill="#22E022"/>
<rect x="90.00" y="435.73" width="8" height="8" fill="#111111"/>
<rect x="127.00" y="424.87" width="8" height="8" fill="#111111"/>
<rect x="202.22" y="417.12" width="8" height="8" fill="#111111"/>
<rect x="276.99" y="413.31" width="8" height="8" fill="#111111"/>
<rect x="61.00" y="430.09" width="8" height="8" fill="#1A1ADC"/>
<rect x="88.02" y="419.23" width="8" height="8" fill="#1A1ADC"/>
<rect x="126.59" y="404.57" width="8" height="8" fill="#1A1ADC"/>
<rect x="163.80" y="395.40" width="8" height="8" fill="#1A1ADC"/>
<rect x="201.40" y="388.35" width="8" height="8" fill="#1A1ADC"/>
<rect x="276.32" y="388.07" width="8" height="8" fill="#1A1ADC"/>
<rect x="61.00" y="422.05" width="8" height="8" fill="#E8141E"/>
<rect x="88.02" y="378.06" width="8" height="8" fill="#E8141E"/>
<rect x="126.59" y="343.80" width="8" height="8" fill="#E8141E"/>
<rect x="163.80" y="337.45" width="8" height="8" fill="#E8141E"/>
<rect x="201.40" y="336.04" width="8" height="8" fill="#E8141E"/>
<rect x="276.32" y="336.33" width="8" height="8" fill="#E8141E"/>
<text x="70.2" y="401.2" font-size="13" text-anchor="middle" fill="#E8141E" >1.2</text>
<text x="92.3" y="371.5" font-size="13" text-anchor="middle" fill="#E8141E" >1.5</text>
<text x="125.5" y="341.7" font-size="13" text-anchor="middle" fill="#E8141E" >1.7</text>
<text x="168.0" y="334.3" font-size="13" text-anchor="middle" fill="#E8141E" >1.8</text>
<text x="211.2" y="332.2" font-size="13" text-anchor="middle" fill="#E8141E" >1.8</text>
<text x="289.5" y="331.0" font-size="13" text-anchor="start" fill="#E8141E" >1.8</text>
<text x="290.3" y="387.0" font-size="13" text-anchor="start" fill="#1A1ADC" >1.4</text>
<text x="290.3" y="413.2" font-size="13" text-anchor="start" fill="#111111" >1.2</text>
<text x="290.3" y="428.3" font-size="13" text-anchor="start" fill="#22E022" >1.1</text>
<line x1="56.20" y1="607.70" x2="56.20" y2="815.65" stroke="#222" stroke-width="1.1" />
<line x1="55.70" y1="815.15" x2="318.84" y2="815.15" stroke="#222" stroke-width="1.1" />
<line x1="52.20" y1="815.15" x2="56.20" y2="815.15" stroke="#222" stroke-width="1.1" />
<line x1="52.20" y1="746.00" x2="56.20" y2="746.00" stroke="#222" stroke-width="1.1" />
<line x1="52.20" y1="676.85" x2="56.20" y2="676.85" stroke="#222" stroke-width="1.1" />
<line x1="52.20" y1="607.70" x2="56.20" y2="607.70" stroke="#222" stroke-width="1.1" />
<line x1="54.20" y1="780.58" x2="56.20" y2="780.58" stroke="#222" stroke-width="1.1" />
<line x1="54.20" y1="711.42" x2="56.20" y2="711.42" stroke="#222" stroke-width="1.1" />
<line x1="54.20" y1="642.27" x2="56.20" y2="642.27" stroke="#222" stroke-width="1.1" />
<line x1="56.20" y1="815.15" x2="56.20" y2="819.15" stroke="#222" stroke-width="1.1" />
<line x1="131.24" y1="815.15" x2="131.24" y2="819.15" stroke="#222" stroke-width="1.1" />
<line x1="206.28" y1="815.15" x2="206.28" y2="819.15" stroke="#222" stroke-width="1.1" />
<line x1="281.32" y1="815.15" x2="281.32" y2="819.15" stroke="#222" stroke-width="1.1" />
<line x1="93.72" y1="815.15" x2="93.72" y2="817.15" stroke="#222" stroke-width="1.1" />
<line x1="168.76" y1="815.15" x2="168.76" y2="817.15" stroke="#222" stroke-width="1.1" />
<line x1="243.80" y1="815.15" x2="243.80" y2="817.15" stroke="#222" stroke-width="1.1" />
<line x1="318.84" y1="815.15" x2="318.84" y2="817.15" stroke="#222" stroke-width="1.1" />
<text x="47.2" y="820.4" font-size="15" text-anchor="end" fill="#111" >0.5</text>
<text x="47.2" y="751.2" font-size="15" text-anchor="end" fill="#111" >1.0</text>
<text x="47.2" y="682.1" font-size="15" text-anchor="end" fill="#111" >1.5</text>
<text x="47.2" y="612.9" font-size="15" text-anchor="end" fill="#111" >2.0</text>
<text x="56.2" y="836.5" font-size="15" text-anchor="middle" fill="#111" >0</text>
<text x="131.2" y="836.5" font-size="15" text-anchor="middle" fill="#111" >200</text>
<text x="206.3" y="836.5" font-size="15" text-anchor="middle" fill="#111" >400</text>
<text x="281.3" y="836.5" font-size="15" text-anchor="middle" fill="#111" >600</text>
<text x="187.2" y="856.0" font-size="15" text-anchor="middle" fill="#111" ><tspan font-style="italic">d</tspan> (μm)</text>
<text transform="translate(12.6,712) rotate(-90)" font-size="15" text-anchor="middle" fill="#111">K<tspan font-size="11.5" dy="4" font-family="Liberation Serif">Φ</tspan><tspan dy="-4">/K</tspan><tspan font-size="11.5" dy="4" font-family="Liberation Serif">Φ</tspan><tspan font-size="10">,0</tspan></text>
<text x="0.0" y="600.5" font-size="17" text-anchor="start" fill="#000" font-weight="bold" >e</text>
<polyline points="65.58,738.53 74.96,737.56 93.72,736.73 112.48,734.38 131.24,733.55 150.00,732.03 168.76,731.20 206.28,730.23 243.80,729.82 281.32,730.23" fill="none" stroke="#1a1a1a" stroke-width="1.2" stroke-linejoin="round" />
<polyline points="65.58,742.96 74.96,740.47 93.72,736.04 112.48,731.62 131.24,727.61 150.00,723.46 168.76,720.83 206.28,714.61 243.80,710.87 281.32,707.97" fill="none" stroke="#1a1a1a" stroke-width="1.2" stroke-linejoin="round" />
<polyline points="65.58,731.06 74.96,728.16 93.72,723.04 112.48,718.34 131.24,713.50 150.00,709.21 168.76,705.75 206.28,698.84 243.80,693.03 281.32,688.05" fill="none" stroke="#1a1a1a" stroke-width="1.2" stroke-linejoin="round" />
<polyline points="65.58,719.03 74.96,714.88 93.72,701.05 112.48,689.85 131.24,680.31 150.00,669.66 168.76,660.81 206.28,645.87 243.80,633.56 281.32,623.60" fill="none" stroke="#1a1a1a" stroke-width="1.2" stroke-linejoin="round" />
<rect x="62.08" y="735.03" width="7" height="7" fill="#fff" stroke="#22E022" stroke-width="1.2"/>
<rect x="71.46" y="734.06" width="7" height="7" fill="#fff" stroke="#22E022" stroke-width="1.2"/>
<rect x="90.22" y="733.23" width="7" height="7" fill="#fff" stroke="#22E022" stroke-width="1.2"/>
<rect x="108.98" y="730.88" width="7" height="7" fill="#fff" stroke="#22E022" stroke-width="1.2"/>
<rect x="127.74" y="730.05" width="7" height="7" fill="#fff" stroke="#22E022" stroke-width="1.2"/>
<rect x="146.50" y="728.53" width="7" height="7" fill="#fff" stroke="#22E022" stroke-width="1.2"/>
<rect x="165.26" y="727.70" width="7" height="7" fill="#fff" stroke="#22E022" stroke-width="1.2"/>
<rect x="202.78" y="726.73" width="7" height="7" fill="#fff" stroke="#22E022" stroke-width="1.2"/>
<rect x="240.30" y="726.32" width="7" height="7" fill="#fff" stroke="#22E022" stroke-width="1.2"/>
<rect x="277.82" y="726.73" width="7" height="7" fill="#fff" stroke="#22E022" stroke-width="1.2"/>
<rect x="62.08" y="739.46" width="7" height="7" fill="#fff" stroke="#111111" stroke-width="1.2"/>
<rect x="71.46" y="736.97" width="7" height="7" fill="#fff" stroke="#111111" stroke-width="1.2"/>
<rect x="90.22" y="732.54" width="7" height="7" fill="#fff" stroke="#111111" stroke-width="1.2"/>
<rect x="108.98" y="728.12" width="7" height="7" fill="#fff" stroke="#111111" stroke-width="1.2"/>
<rect x="127.74" y="724.11" width="7" height="7" fill="#fff" stroke="#111111" stroke-width="1.2"/>
<rect x="146.50" y="719.96" width="7" height="7" fill="#fff" stroke="#111111" stroke-width="1.2"/>
<rect x="165.26" y="717.33" width="7" height="7" fill="#fff" stroke="#111111" stroke-width="1.2"/>
<rect x="202.78" y="711.11" width="7" height="7" fill="#fff" stroke="#111111" stroke-width="1.2"/>
<rect x="240.30" y="707.37" width="7" height="7" fill="#fff" stroke="#111111" stroke-width="1.2"/>
<rect x="277.82" y="704.47" width="7" height="7" fill="#fff" stroke="#111111" stroke-width="1.2"/>
<rect x="62.08" y="727.56" width="7" height="7" fill="#fff" stroke="#1A1ADC" stroke-width="1.2"/>
<rect x="71.46" y="724.66" width="7" height="7" fill="#fff" stroke="#1A1ADC" stroke-width="1.2"/>
<rect x="90.22" y="719.54" width="7" height="7" fill="#fff" stroke="#1A1ADC" stroke-width="1.2"/>
<rect x="108.98" y="714.84" width="7" height="7" fill="#fff" stroke="#1A1ADC" stroke-width="1.2"/>
<rect x="127.74" y="710.00" width="7" height="7" fill="#fff" stroke="#1A1ADC" stroke-width="1.2"/>
<rect x="146.50" y="705.71" width="7" height="7" fill="#fff" stroke="#1A1ADC" stroke-width="1.2"/>
<rect x="165.26" y="702.25" width="7" height="7" fill="#fff" stroke="#1A1ADC" stroke-width="1.2"/>
<rect x="202.78" y="695.34" width="7" height="7" fill="#fff" stroke="#1A1ADC" stroke-width="1.2"/>
<rect x="240.30" y="689.53" width="7" height="7" fill="#fff" stroke="#1A1ADC" stroke-width="1.2"/>
<rect x="277.82" y="684.55" width="7" height="7" fill="#fff" stroke="#1A1ADC" stroke-width="1.2"/>
<rect x="62.08" y="715.53" width="7" height="7" fill="#fff" stroke="#E8141E" stroke-width="1.2"/>
<rect x="71.46" y="711.38" width="7" height="7" fill="#fff" stroke="#E8141E" stroke-width="1.2"/>
<rect x="90.22" y="697.55" width="7" height="7" fill="#fff" stroke="#E8141E" stroke-width="1.2"/>
<rect x="108.98" y="686.35" width="7" height="7" fill="#fff" stroke="#E8141E" stroke-width="1.2"/>
<rect x="127.74" y="676.81" width="7" height="7" fill="#fff" stroke="#E8141E" stroke-width="1.2"/>
<rect x="146.50" y="666.16" width="7" height="7" fill="#fff" stroke="#E8141E" stroke-width="1.2"/>
<rect x="165.26" y="657.31" width="7" height="7" fill="#fff" stroke="#E8141E" stroke-width="1.2"/>
<rect x="202.78" y="642.37" width="7" height="7" fill="#fff" stroke="#E8141E" stroke-width="1.2"/>
<rect x="240.30" y="630.06" width="7" height="7" fill="#fff" stroke="#E8141E" stroke-width="1.2"/>
<rect x="277.82" y="620.10" width="7" height="7" fill="#fff" stroke="#E8141E" stroke-width="1.2"/>
<text x="291.3" y="626.2" font-size="13" text-anchor="start" fill="#E8141E" >1.9</text>
<text x="290.3" y="691.8" font-size="13" text-anchor="start" fill="#1A1ADC" >1.4</text>
<text x="290.3" y="713.0" font-size="13" text-anchor="start" fill="#111111" >1.3</text>
<text x="290.3" y="734.0" font-size="13" text-anchor="start" fill="#22E022" >1.1</text>
<line x1="410.70" y1="608.24" x2="410.70" y2="815.80" stroke="#222" stroke-width="1.1" />
<line x1="410.20" y1="815.30" x2="672.85" y2="815.30" stroke="#222" stroke-width="1.1" />
<line x1="406.70" y1="815.30" x2="410.70" y2="815.30" stroke="#222" stroke-width="1.1" />
<line x1="406.70" y1="766.00" x2="410.70" y2="766.00" stroke="#222" stroke-width="1.1" />
<line x1="406.70" y1="716.70" x2="410.70" y2="716.70" stroke="#222" stroke-width="1.1" />
<line x1="406.70" y1="667.40" x2="410.70" y2="667.40" stroke="#222" stroke-width="1.1" />
<line x1="406.70" y1="618.10" x2="410.70" y2="618.10" stroke="#222" stroke-width="1.1" />
<line x1="408.70" y1="790.65" x2="410.70" y2="790.65" stroke="#222" stroke-width="1.1" />
<line x1="408.70" y1="741.35" x2="410.70" y2="741.35" stroke="#222" stroke-width="1.1" />
<line x1="408.70" y1="692.05" x2="410.70" y2="692.05" stroke="#222" stroke-width="1.1" />
<line x1="408.70" y1="642.75" x2="410.70" y2="642.75" stroke="#222" stroke-width="1.1" />
<line x1="410.70" y1="815.30" x2="410.70" y2="819.30" stroke="#222" stroke-width="1.1" />
<line x1="485.60" y1="815.30" x2="485.60" y2="819.30" stroke="#222" stroke-width="1.1" />
<line x1="560.50" y1="815.30" x2="560.50" y2="819.30" stroke="#222" stroke-width="1.1" />
<line x1="635.40" y1="815.30" x2="635.40" y2="819.30" stroke="#222" stroke-width="1.1" />
<line x1="448.15" y1="815.30" x2="448.15" y2="817.30" stroke="#222" stroke-width="1.1" />
<line x1="523.05" y1="815.30" x2="523.05" y2="817.30" stroke="#222" stroke-width="1.1" />
<line x1="597.95" y1="815.30" x2="597.95" y2="817.30" stroke="#222" stroke-width="1.1" />
<line x1="672.85" y1="815.30" x2="672.85" y2="817.30" stroke="#222" stroke-width="1.1" />
<text x="401.7" y="820.5" font-size="15" text-anchor="end" fill="#111" >0.5</text>
<text x="401.7" y="771.2" font-size="15" text-anchor="end" fill="#111" >1.0</text>
<text x="401.7" y="721.9" font-size="15" text-anchor="end" fill="#111" >1.5</text>
<text x="401.7" y="672.6" font-size="15" text-anchor="end" fill="#111" >2.0</text>
<text x="401.7" y="623.3" font-size="15" text-anchor="end" fill="#111" >2.5</text>
<text x="410.7" y="836.5" font-size="15" text-anchor="middle" fill="#111" >0</text>
<text x="485.6" y="836.5" font-size="15" text-anchor="middle" fill="#111" >200</text>
<text x="560.5" y="836.5" font-size="15" text-anchor="middle" fill="#111" >400</text>
<text x="635.4" y="836.5" font-size="15" text-anchor="middle" fill="#111" >600</text>
<text x="541.2" y="856.0" font-size="15" text-anchor="middle" fill="#111" ><tspan font-style="italic">d</tspan> (μm)</text>
<text transform="translate(368.4,712) rotate(-90)" font-size="15" text-anchor="middle" fill="#111">K<tspan font-size="11.5" dy="4" font-family="Liberation Serif">Φ</tspan><tspan dy="-4">/K</tspan><tspan font-size="11.5" dy="4" font-family="Liberation Serif">Φ</tspan><tspan font-size="10">,0</tspan></text>
<text x="356.0" y="601.0" font-size="17" text-anchor="start" fill="#000" font-weight="bold" >f</text>
<polyline points="420.06,743.81 429.43,740.86 448.15,723.40 466.88,709.11 485.60,695.40 504.32,681.89 523.05,669.96 560.50,648.47 597.95,631.71 635.40,617.61" fill="none" stroke="#1a1a1a" stroke-width="1.2" stroke-linejoin="round" />
<polyline points="420.06,747.76 429.43,743.72 448.15,734.45 466.88,725.97 485.60,719.16 504.32,712.07 523.05,705.85 560.50,694.91 597.95,686.23 635.40,678.74" fill="none" stroke="#1a1a1a" stroke-width="1.2" stroke-linejoin="round" />
<polyline points="420.06,744.70 429.43,740.86 448.15,731.49 466.88,722.62 485.60,715.42 504.32,708.32 523.05,702.11 560.50,690.87 597.95,681.89 635.40,674.30" fill="none" stroke="#1a1a1a" stroke-width="1.2" stroke-linejoin="round" />
<polyline points="420.06,736.72 429.43,732.97 448.15,723.40 466.88,714.73 485.60,708.22 504.32,701.02 523.05,695.60 560.50,684.75 597.95,676.18 635.40,668.88" fill="none" stroke="#1a1a1a" stroke-width="1.2" stroke-linejoin="round" />
<rect x="416.56" y="740.31" width="7" height="7" fill="#fff" stroke="#111111" stroke-width="1.2"/>
<rect x="425.93" y="737.36" width="7" height="7" fill="#fff" stroke="#111111" stroke-width="1.2"/>
<rect x="444.65" y="719.90" width="7" height="7" fill="#fff" stroke="#111111" stroke-width="1.2"/>
<rect x="463.38" y="705.61" width="7" height="7" fill="#fff" stroke="#111111" stroke-width="1.2"/>
<rect x="482.10" y="691.90" width="7" height="7" fill="#fff" stroke="#111111" stroke-width="1.2"/>
<rect x="500.82" y="678.39" width="7" height="7" fill="#fff" stroke="#111111" stroke-width="1.2"/>
<rect x="519.55" y="666.46" width="7" height="7" fill="#fff" stroke="#111111" stroke-width="1.2"/>
<rect x="557.00" y="644.97" width="7" height="7" fill="#fff" stroke="#111111" stroke-width="1.2"/>
<rect x="594.45" y="628.21" width="7" height="7" fill="#fff" stroke="#111111" stroke-width="1.2"/>
<rect x="631.90" y="614.11" width="7" height="7" fill="#fff" stroke="#111111" stroke-width="1.2"/>
<rect x="416.56" y="744.26" width="7" height="7" fill="#fff" stroke="#E8141E" stroke-width="1.2"/>
<rect x="425.93" y="740.22" width="7" height="7" fill="#fff" stroke="#E8141E" stroke-width="1.2"/>
<rect x="444.65" y="730.95" width="7" height="7" fill="#fff" stroke="#E8141E" stroke-width="1.2"/>
<rect x="463.38" y="722.47" width="7" height="7" fill="#fff" stroke="#E8141E" stroke-width="1.2"/>
<rect x="482.10" y="715.66" width="7" height="7" fill="#fff" stroke="#E8141E" stroke-width="1.2"/>
<rect x="500.82" y="708.57" width="7" height="7" fill="#fff" stroke="#E8141E" stroke-width="1.2"/>
<rect x="519.55" y="702.35" width="7" height="7" fill="#fff" stroke="#E8141E" stroke-width="1.2"/>
<rect x="557.00" y="691.41" width="7" height="7" fill="#fff" stroke="#E8141E" stroke-width="1.2"/>
<rect x="594.45" y="682.73" width="7" height="7" fill="#fff" stroke="#E8141E" stroke-width="1.2"/>
<rect x="631.90" y="675.24" width="7" height="7" fill="#fff" stroke="#E8141E" stroke-width="1.2"/>
<rect x="416.56" y="741.20" width="7" height="7" fill="#fff" stroke="#1A1ADC" stroke-width="1.2"/>
<rect x="425.93" y="737.36" width="7" height="7" fill="#fff" stroke="#1A1ADC" stroke-width="1.2"/>
<rect x="444.65" y="727.99" width="7" height="7" fill="#fff" stroke="#1A1ADC" stroke-width="1.2"/>
<rect x="463.38" y="719.12" width="7" height="7" fill="#fff" stroke="#1A1ADC" stroke-width="1.2"/>
<rect x="482.10" y="711.92" width="7" height="7" fill="#fff" stroke="#1A1ADC" stroke-width="1.2"/>
<rect x="500.82" y="704.82" width="7" height="7" fill="#fff" stroke="#1A1ADC" stroke-width="1.2"/>
<rect x="519.55" y="698.61" width="7" height="7" fill="#fff" stroke="#1A1ADC" stroke-width="1.2"/>
<rect x="557.00" y="687.37" width="7" height="7" fill="#fff" stroke="#1A1ADC" stroke-width="1.2"/>
<rect x="594.45" y="678.39" width="7" height="7" fill="#fff" stroke="#1A1ADC" stroke-width="1.2"/>
<rect x="631.90" y="670.80" width="7" height="7" fill="#fff" stroke="#1A1ADC" stroke-width="1.2"/>
<rect x="416.56" y="733.22" width="7" height="7" fill="#fff" stroke="#22E022" stroke-width="1.2"/>
<rect x="425.93" y="729.47" width="7" height="7" fill="#fff" stroke="#22E022" stroke-width="1.2"/>
<rect x="444.65" y="719.90" width="7" height="7" fill="#fff" stroke="#22E022" stroke-width="1.2"/>
<rect x="463.38" y="711.23" width="7" height="7" fill="#fff" stroke="#22E022" stroke-width="1.2"/>
<rect x="482.10" y="704.72" width="7" height="7" fill="#fff" stroke="#22E022" stroke-width="1.2"/>
<rect x="500.82" y="697.52" width="7" height="7" fill="#fff" stroke="#22E022" stroke-width="1.2"/>
<rect x="519.55" y="692.10" width="7" height="7" fill="#fff" stroke="#22E022" stroke-width="1.2"/>
<rect x="557.00" y="681.25" width="7" height="7" fill="#fff" stroke="#22E022" stroke-width="1.2"/>
<rect x="594.45" y="672.68" width="7" height="7" fill="#fff" stroke="#22E022" stroke-width="1.2"/>
<rect x="631.90" y="665.38" width="7" height="7" fill="#fff" stroke="#22E022" stroke-width="1.2"/>
<text x="645.0" y="621.8" font-size="13" text-anchor="start" fill="#111111" >2.5</text>
<text x="644.0" y="660.0" font-size="13" text-anchor="start" fill="#22E022" >2.0</text>
<text x="644.0" y="672.8" font-size="13" text-anchor="start" fill="#1A1ADC" >1.9</text>
<text x="644.0" y="686.3" font-size="13" text-anchor="start" fill="#E8141E" >1.9</text>
<line x1="425.62" y1="497.25" x2="421.39" y2="346.65" stroke="#6a6a6a" stroke-width="0.95" stroke-dasharray="2,2.2"/>
<line x1="438.09" y1="486.73" x2="434.43" y2="338.26" stroke="#6a6a6a" stroke-width="0.95" stroke-dasharray="2,2.2"/>
<line x1="450.17" y1="476.54" x2="447.03" y2="330.14" stroke="#6a6a6a" stroke-width="0.95" stroke-dasharray="2,2.2"/>
<line x1="461.86" y1="466.67" x2="459.23" y2="322.29" stroke="#6a6a6a" stroke-width="0.95" stroke-dasharray="2,2.2"/>
<line x1="473.19" y1="457.11" x2="471.03" y2="314.69" stroke="#6a6a6a" stroke-width="0.95" stroke-dasharray="2,2.2"/>
<line x1="411.56" y1="471.07" x2="483.76" y2="413.67" stroke="#6a6a6a" stroke-width="0.95" stroke-dasharray="2,2.2"/>
<line x1="410.36" y1="433.27" x2="483.33" y2="378.87" stroke="#6a6a6a" stroke-width="0.95" stroke-dasharray="2,2.2"/>
<line x1="409.14" y1="394.70" x2="482.90" y2="343.42" stroke="#6a6a6a" stroke-width="0.95" stroke-dasharray="2,2.2"/>
<line x1="503.60" y1="450.58" x2="502.59" y2="309.31" stroke="#6a6a6a" stroke-width="0.95" stroke-dasharray="2,2.2"/>
<line x1="523.24" y1="453.34" x2="522.97" y2="311.32" stroke="#6a6a6a" stroke-width="0.95" stroke-dasharray="2,2.2"/>
<line x1="543.12" y1="456.14" x2="543.60" y2="313.36" stroke="#6a6a6a" stroke-width="0.95" stroke-dasharray="2,2.2"/>
<line x1="563.23" y1="458.98" x2="564.48" y2="315.42" stroke="#6a6a6a" stroke-width="0.95" stroke-dasharray="2,2.2"/>
<line x1="583.59" y1="461.84" x2="585.62" y2="317.51" stroke="#6a6a6a" stroke-width="0.95" stroke-dasharray="2,2.2"/>
<line x1="604.18" y1="464.74" x2="607.02" y2="319.62" stroke="#6a6a6a" stroke-width="0.95" stroke-dasharray="2,2.2"/>
<line x1="625.03" y1="467.68" x2="628.69" y2="321.76" stroke="#6a6a6a" stroke-width="0.95" stroke-dasharray="2,2.2"/>
<line x1="483.76" y1="413.67" x2="647.23" y2="435.01" stroke="#6a6a6a" stroke-width="0.95" stroke-dasharray="2,2.2"/>
<line x1="483.33" y1="378.87" x2="648.34" y2="398.69" stroke="#6a6a6a" stroke-width="0.95" stroke-dasharray="2,2.2"/>
<line x1="482.90" y1="343.42" x2="649.48" y2="361.67" stroke="#6a6a6a" stroke-width="0.95" stroke-dasharray="2,2.2"/>
<line x1="484.18" y1="447.84" x2="482.46" y2="307.33" stroke="#6a6a6a" stroke-width="0.95" stroke-dasharray="2,2.2"/>
<line x1="433.66" y1="511.52" x2="503.60" y2="450.58" stroke="#6a6a6a" stroke-width="0.95" stroke-dasharray="2,2.2"/>
<line x1="454.86" y1="514.97" x2="523.24" y2="453.34" stroke="#6a6a6a" stroke-width="0.95" stroke-dasharray="2,2.2"/>
<line x1="476.33" y1="518.45" x2="543.12" y2="456.14" stroke="#6a6a6a" stroke-width="0.95" stroke-dasharray="2,2.2"/>
<line x1="498.09" y1="521.98" x2="563.23" y2="458.98" stroke="#6a6a6a" stroke-width="0.95" stroke-dasharray="2,2.2"/>
<line x1="520.13" y1="525.56" x2="583.59" y2="461.84" stroke="#6a6a6a" stroke-width="0.95" stroke-dasharray="2,2.2"/>
<line x1="542.46" y1="529.19" x2="604.18" y2="464.74" stroke="#6a6a6a" stroke-width="0.95" stroke-dasharray="2,2.2"/>
<line x1="565.10" y1="532.87" x2="625.03" y2="467.68" stroke="#6a6a6a" stroke-width="0.95" stroke-dasharray="2,2.2"/>
<line x1="425.62" y1="497.25" x2="598.56" y2="524.64" stroke="#6a6a6a" stroke-width="0.95" stroke-dasharray="2,2.2"/>
<line x1="438.09" y1="486.73" x2="608.72" y2="513.11" stroke="#6a6a6a" stroke-width="0.95" stroke-dasharray="2,2.2"/>
<line x1="450.17" y1="476.54" x2="618.55" y2="501.96" stroke="#6a6a6a" stroke-width="0.95" stroke-dasharray="2,2.2"/>
<line x1="461.86" y1="466.67" x2="628.04" y2="491.18" stroke="#6a6a6a" stroke-width="0.95" stroke-dasharray="2,2.2"/>
<line x1="473.19" y1="457.11" x2="637.23" y2="480.74" stroke="#6a6a6a" stroke-width="0.95" stroke-dasharray="2,2.2"/>
<line x1="484.18" y1="447.84" x2="646.13" y2="470.65" stroke="#6a6a6a" stroke-width="0.95" stroke-dasharray="2,2.2"/>
<line x1="412.73" y1="508.12" x2="484.18" y2="447.84" stroke="#6a6a6a" stroke-width="0.95" stroke-dasharray="2,2.2"/>
<g stroke="#111" stroke-width="0.55" stroke-linejoin="round">
<polygon points="473.2,457.1 478.1,457.8 489.0,448.5 484.2,447.8" fill="#000080"/>
<polygon points="478.1,457.8 483.0,458.5 493.9,449.2 489.0,448.5" fill="#000080"/>
<polygon points="483.0,458.5 487.9,459.2 498.7,449.9 493.9,449.2" fill="#000080"/>
<polygon points="487.9,459.2 492.8,459.9 503.6,450.6 498.7,449.9" fill="#000080"/>
<polygon points="492.8,459.9 497.8,460.7 508.5,451.3 503.6,450.6" fill="#000080"/>
<polygon points="497.8,460.7 502.8,461.4 513.4,452.0 508.5,451.3" fill="#000080"/>
<polygon points="502.8,461.4 507.7,462.1 518.3,452.6 513.4,452.0" fill="#000080"/>
<polygon points="507.7,462.1 512.7,462.8 523.2,453.3 518.3,452.6" fill="#000080"/>
<polygon points="512.7,462.8 517.7,463.5 528.2,454.0 523.2,453.3" fill="#000080"/>
<polygon points="517.7,463.5 522.8,464.3 533.2,454.7 528.2,454.0" fill="#000080"/>
<polygon points="461.9,466.7 466.8,467.4 478.1,457.8 473.2,457.1" fill="#000080"/>
<polygon points="466.8,467.4 471.8,468.1 483.0,458.5 478.1,457.8" fill="#000080"/>
<polygon points="471.8,468.1 476.8,468.9 487.9,459.2 483.0,458.5" fill="#000080"/>
<polygon points="476.8,468.9 481.8,469.6 492.8,459.9 487.9,459.2" fill="#000080"/>
<polygon points="481.8,469.6 486.8,470.3 497.8,460.7 492.8,459.9" fill="#000080"/>
<polygon points="486.8,470.3 491.8,471.1 502.8,461.4 497.8,460.7" fill="#000080"/>
<polygon points="491.8,471.1 496.8,471.8 507.7,462.1 502.8,461.4" fill="#000080"/>
<polygon points="496.8,471.8 501.9,472.6 512.7,462.8 507.7,462.1" fill="#000080"/>
<polygon points="501.9,472.6 507.0,473.3 517.7,463.5 512.7,462.8" fill="#000080"/>
<polygon points="507.0,473.3 512.1,474.1 522.8,464.3 517.7,463.5" fill="#000080"/>
<polygon points="450.2,476.5 455.2,477.3 466.8,467.4 461.9,466.7" fill="#000080"/>
<polygon points="558.6,440.1 563.8,442.5 573.7,432.5 568.6,429.7" fill="#0079ff"/>
<polygon points="455.2,477.3 460.2,478.1 471.8,468.1 466.8,467.4" fill="#000080"/>
<polygon points="553.5,428.8 558.6,440.1 568.6,429.7 563.6,417.0" fill="#00d2ff"/>
<polygon points="563.8,442.5 569.0,443.0 578.8,433.1 573.7,432.5" fill="#006bff"/>
<polygon points="460.2,478.1 465.3,478.8 476.8,468.9 471.8,468.1" fill="#000080"/>
<polygon points="548.4,413.4 553.5,428.8 563.6,417.0 558.6,400.1" fill="#4effb1"/>
<polygon points="569.0,443.0 574.2,442.8 584.0,433.1 578.8,433.1" fill="#006dff"/>
<polygon points="465.3,478.8 470.3,479.6 481.8,469.6 476.8,468.9" fill="#000080"/>
<polygon points="470.3,479.6 475.4,480.3 486.8,470.3 481.8,469.6" fill="#000080"/>
<polygon points="574.2,442.8 579.4,441.2 589.2,431.7 584.0,433.1" fill="#0074ff"/>
<polygon points="543.3,394.6 548.4,413.4 558.6,400.1 553.6,379.4" fill="#e4ff1b"/>
<polygon points="475.4,480.3 480.5,481.1 491.8,471.1 486.8,470.3" fill="#000080"/>
<polygon points="579.4,441.2 584.7,439.7 594.4,430.2 589.2,431.7" fill="#0087ff"/>
<polygon points="480.5,481.1 485.6,481.9 496.8,471.8 491.8,471.1" fill="#000080"/>
<polygon points="584.7,439.7 590.0,438.5 599.6,429.2 594.4,430.2" fill="#009aff"/>
<polygon points="485.6,481.9 490.7,482.7 501.9,472.6 496.8,471.8" fill="#000080"/>
<polygon points="444.2,481.6 449.2,482.4 455.2,477.3 450.2,476.5" fill="#000080"/>
<polygon points="538.1,361.9 543.3,394.6 553.6,379.4 548.7,343.3" fill="#ff1200"/>
<polygon points="490.7,482.7 495.8,483.4 507.0,473.3 501.9,472.6" fill="#000080"/>
<polygon points="590.0,438.5 595.4,437.3 604.9,428.1 599.6,429.2" fill="#00aaff"/>
<polygon points="449.2,482.4 454.3,483.1 460.2,478.1 455.2,477.3" fill="#000080"/>
<polygon points="495.8,483.4 501.0,484.2 512.1,474.1 507.0,473.3" fill="#000080"/>
<polygon points="595.4,437.3 600.7,437.1 610.2,427.9 604.9,428.1" fill="#00baff"/>
<polygon points="454.3,483.1 459.4,483.9 465.3,478.8 460.2,478.1" fill="#000080"/>
<polygon points="532.9,355.2 538.1,361.9 548.7,343.3 543.5,335.5" fill="#e00000"/>
<polygon points="600.7,437.1 606.0,437.0 615.4,427.8 610.2,427.9" fill="#00c1ff"/>
<polygon points="459.4,483.9 464.5,484.7 470.3,479.6 465.3,478.8" fill="#000080"/>
<polygon points="543.0,441.5 548.2,451.1 558.6,440.1 553.5,428.8" fill="#00b7ff"/>
<polygon points="548.2,451.1 553.5,453.0 563.8,442.5 558.6,440.1" fill="#006dff"/>
<polygon points="606.0,437.0 611.4,436.9 620.7,427.7 615.4,427.8" fill="#00c8ff"/>
<polygon points="464.5,484.7 469.6,485.5 475.4,480.3 470.3,479.6" fill="#000080"/>
<polygon points="553.5,453.0 558.8,453.2 569.0,443.0 563.8,442.5" fill="#0064ff"/>
<polygon points="537.8,427.9 543.0,441.5 553.5,428.8 548.4,413.4" fill="#22ffdd"/>
<polygon points="611.4,436.9 616.8,436.8 626.0,427.6 620.7,427.7" fill="#00cfff"/>
<polygon points="469.6,485.5 474.7,486.3 480.5,481.1 475.4,480.3" fill="#000080"/>
<polygon points="438.1,486.7 443.2,487.5 449.2,482.4 444.2,481.6" fill="#000080"/>
<polygon points="558.8,453.2 564.1,452.8 574.2,442.8 569.0,443.0" fill="#0068ff"/>
<polygon points="474.7,486.3 479.8,487.0 485.6,481.9 480.5,481.1" fill="#000080"/>
<polygon points="532.6,411.6 537.8,427.9 548.4,413.4 543.3,394.6" fill="#a3ff5c"/>
<polygon points="616.8,436.8 622.2,436.5 631.4,427.3 626.0,427.6" fill="#00d5ff"/>
<polygon points="443.2,487.5 448.3,488.3 454.3,483.1 449.2,482.4" fill="#000080"/>
<polygon points="564.1,452.8 569.4,451.1 579.4,441.2 574.2,442.8" fill="#0072ff"/>
<polygon points="479.8,487.0 485.0,487.8 490.7,482.7 485.6,481.9" fill="#000080"/>
<polygon points="448.3,488.3 453.4,489.1 459.4,483.9 454.3,483.1" fill="#000080"/>
<polygon points="622.2,436.5 627.6,436.2 636.7,427.0 631.4,427.3" fill="#00deff"/>
<polygon points="485.0,487.8 490.1,488.6 495.8,483.4 490.7,482.7" fill="#000080"/>
<polygon points="569.4,451.1 574.7,449.5 584.7,439.7 579.4,441.2" fill="#0085ff"/>
<polygon points="453.4,489.1 458.5,489.9 464.5,484.7 459.4,483.9" fill="#000080"/>
<polygon points="627.6,436.2 633.1,435.9 642.1,426.7 636.7,427.0" fill="#00e6ff"/>
<polygon points="490.1,488.6 495.3,489.4 501.0,484.2 495.8,483.4" fill="#000080"/>
<polygon points="527.3,383.0 532.6,411.6 543.3,394.6 538.1,361.9" fill="#ff7800"/>
<polygon points="458.5,489.9 463.6,490.7 469.6,485.5 464.5,484.7" fill="#000080"/>
<polygon points="574.7,449.5 580.1,448.1 590.0,438.5 584.7,439.7" fill="#0099ff"/>
<polygon points="633.1,435.9 638.5,435.6 647.5,426.4 642.1,426.7" fill="#00eeff"/>
<polygon points="463.6,490.7 468.8,491.5 474.7,486.3 469.6,485.5" fill="#000080"/>
<polygon points="431.9,491.9 437.0,492.7 443.2,487.5 438.1,486.7" fill="#000080"/>
<polygon points="580.1,448.1 585.5,446.8 595.4,437.3 590.0,438.5" fill="#00aaff"/>
<polygon points="522.1,377.7 527.3,383.0 538.1,361.9 532.9,355.2" fill="#ff5300"/>
<polygon points="468.8,491.5 474.0,492.3 479.8,487.0 474.7,486.3" fill="#000080"/>
<polygon points="437.0,492.7 442.1,493.5 448.3,488.3 443.2,487.5" fill="#000080"/>
<polygon points="585.5,446.8 590.9,446.6 600.7,437.1 595.4,437.3" fill="#00bbff"/>
<polygon points="474.0,492.3 479.2,493.1 485.0,487.8 479.8,487.0" fill="#000080"/>
<polygon points="442.1,493.5 447.3,494.3 453.4,489.1 448.3,488.3" fill="#000080"/>
<polygon points="590.9,446.6 596.3,446.5 606.0,437.0 600.7,437.1" fill="#00c3ff"/>
<polygon points="479.2,493.1 484.4,493.9 490.1,488.6 485.0,487.8" fill="#000080"/>
<polygon points="532.3,455.2 537.6,462.7 548.2,451.1 543.0,441.5" fill="#0097ff"/>
<polygon points="447.3,494.3 452.4,495.2 458.5,489.9 453.4,489.1" fill="#000080"/>
<polygon points="537.6,462.7 542.9,464.0 553.5,453.0 548.2,451.1" fill="#0060ff"/>
<polygon points="527.0,444.1 532.3,455.2 543.0,441.5 537.8,427.9" fill="#00ecff"/>
<polygon points="484.4,493.9 489.6,494.7 495.3,489.4 490.1,488.6" fill="#000080"/>
<polygon points="596.3,446.5 601.8,446.4 611.4,436.9 606.0,437.0" fill="#00caff"/>
<polygon points="452.4,495.2 457.6,496.0 463.6,490.7 458.5,489.9" fill="#000080"/>
<polygon points="542.9,464.0 548.2,463.8 558.8,453.2 553.5,453.0" fill="#005cff"/>
<polygon points="521.6,430.7 527.0,444.1 537.8,427.9 532.6,411.6" fill="#54ffab"/>
<polygon points="457.6,496.0 462.8,496.8 468.8,491.5 463.6,490.7" fill="#000080"/>
<polygon points="601.8,446.4 607.2,446.2 616.8,436.8 611.4,436.9" fill="#00d1ff"/>
<polygon points="425.6,497.2 430.8,498.1 437.0,492.7 431.9,491.9" fill="#000080"/>
<polygon points="548.2,463.8 553.6,463.2 564.1,452.8 558.8,453.2" fill="#0063ff"/>
<polygon points="462.8,496.8 468.0,497.6 474.0,492.3 468.8,491.5" fill="#000080"/>
<polygon points="607.2,446.2 612.7,446.0 622.2,436.5 616.8,436.8" fill="#00d8ff"/>
<polygon points="430.8,498.1 435.9,498.9 442.1,493.5 437.0,492.7" fill="#000080"/>
<polygon points="553.6,463.2 559.0,461.4 569.4,451.1 564.1,452.8" fill="#006eff"/>
<polygon points="468.0,497.6 473.2,498.4 479.2,493.1 474.0,492.3" fill="#000080"/>
<polygon points="516.3,407.4 521.6,430.7 532.6,411.6 527.3,383.0" fill="#fff300"/>
<polygon points="435.9,498.9 441.1,499.7 447.3,494.3 442.1,493.5" fill="#000080"/>
<polygon points="612.7,446.0 618.2,445.7 627.6,436.2 622.2,436.5" fill="#00e0ff"/>
<polygon points="473.2,498.4 478.5,499.2 484.4,493.9 479.2,493.1" fill="#000080"/>
<polygon points="559.0,461.4 564.4,459.6 574.7,449.5 569.4,451.1" fill="#0083ff"/>
<polygon points="441.1,499.7 446.3,500.5 452.4,495.2 447.3,494.3" fill="#000080"/>
<polygon points="618.2,445.7 623.7,445.5 633.1,435.9 627.6,436.2" fill="#00e8ff"/>
<polygon points="510.9,403.8 516.3,407.4 527.3,383.0 522.1,377.7" fill="#ffdd00"/>
<polygon points="478.5,499.2 483.7,500.1 489.6,494.7 484.4,493.9" fill="#000080"/>
<polygon points="446.3,500.5 451.5,501.3 457.6,496.0 452.4,495.2" fill="#000080"/>
<polygon points="564.4,459.6 569.9,458.1 580.1,448.1 574.7,449.5" fill="#0098ff"/>
<polygon points="623.7,445.5 629.2,445.2 638.5,435.6 633.1,435.9" fill="#00f0ff"/>
<polygon points="451.5,501.3 456.7,502.2 462.8,496.8 457.6,496.0" fill="#000080"/>
<polygon points="526.8,462.5 532.1,468.8 537.6,462.7 532.3,455.2" fill="#0085ff"/>
<polygon points="419.2,502.6 424.4,503.5 430.8,498.1 425.6,497.2" fill="#000080"/>
<polygon points="521.4,452.8 526.8,462.5 532.3,455.2 527.0,444.1" fill="#00ceff"/>
<polygon points="569.9,458.1 575.3,456.6 585.5,446.8 580.1,448.1" fill="#00abff"/>
<polygon points="532.1,468.8 537.5,469.7 542.9,464.0 537.6,462.7" fill="#0058ff"/>
<polygon points="456.7,502.2 462.0,503.0 468.0,497.6 462.8,496.8" fill="#000080"/>
<polygon points="424.4,503.5 429.6,504.3 435.9,498.9 430.8,498.1" fill="#000080"/>
<polygon points="516.0,441.1 521.4,452.8 527.0,444.1 521.6,430.7" fill="#27ffd8"/>
<polygon points="537.5,469.7 542.8,469.3 548.2,463.8 542.9,464.0" fill="#0057ff"/>
<polygon points="575.3,456.6 580.8,456.4 590.9,446.6 585.5,446.8" fill="#00bdff"/>
<polygon points="462.0,503.0 467.2,503.8 473.2,498.4 468.0,497.6" fill="#000080"/>
<polygon points="429.6,504.3 434.8,505.1 441.1,499.7 435.9,498.9" fill="#000080"/>
<polygon points="542.8,469.3 548.2,468.6 553.6,463.2 548.2,463.8" fill="#0060ff"/>
<polygon points="467.2,503.8 472.5,504.7 478.5,499.2 473.2,498.4" fill="#000080"/>
<polygon points="580.8,456.4 586.3,456.2 596.3,446.5 590.9,446.6" fill="#00c5ff"/>
<polygon points="510.6,420.8 516.0,441.1 521.6,430.7 516.3,407.4" fill="#c5ff3a"/>
<polygon points="434.8,505.1 440.0,506.0 446.3,500.5 441.1,499.7" fill="#000080"/>
<polygon points="472.5,504.7 477.8,505.5 483.7,500.1 478.5,499.2" fill="#000080"/>
<polygon points="505.3,418.3 510.6,420.8 516.3,407.4 510.9,403.8" fill="#d3ff2c"/>
<polygon points="586.3,456.2 591.8,456.1 601.8,446.4 596.3,446.5" fill="#00ccff"/>
<polygon points="416.0,505.4 421.2,506.2 424.4,503.5 419.2,502.6" fill="#000080"/>
<polygon points="440.0,506.0 445.3,506.8 451.5,501.3 446.3,500.5" fill="#000080"/>
<polygon points="548.2,468.6 553.7,466.7 559.0,461.4 553.6,463.2" fill="#006dff"/>
<polygon points="421.2,506.2 426.4,507.0 429.6,504.3 424.4,503.5" fill="#000080"/>
<polygon points="521.2,469.7 526.6,474.9 532.1,468.8 526.8,462.5" fill="#0074ff"/>
<polygon points="445.3,506.8 450.5,507.7 456.7,502.2 451.5,501.3" fill="#000080"/>
<polygon points="591.8,456.1 597.3,456.0 607.2,446.2 601.8,446.4" fill="#00d3ff"/>
<polygon points="515.8,461.3 521.2,469.7 526.8,462.5 521.4,452.8" fill="#00b2ff"/>
<polygon points="553.7,466.7 559.1,464.8 564.4,459.6 559.0,461.4" fill="#0082ff"/>
<polygon points="526.6,474.9 531.9,475.4 537.5,469.7 532.1,468.8" fill="#0051ff"/>
<polygon points="510.4,451.2 515.8,461.3 521.4,452.8 516.0,441.1" fill="#00fdff"/>
<polygon points="426.4,507.0 431.6,507.9 434.8,505.1 429.6,504.3" fill="#000080"/>
<polygon points="450.5,507.7 455.8,508.5 462.0,503.0 456.7,502.2" fill="#000080"/>
<polygon points="597.3,456.0 602.9,455.8 612.7,446.0 607.2,446.2" fill="#00daff"/>
<polygon points="531.9,475.4 537.4,474.9 542.8,469.3 537.5,469.7" fill="#0053ff"/>
<polygon points="559.1,464.8 564.6,463.2 569.9,458.1 564.4,459.6" fill="#0098ff"/>
<polygon points="431.6,507.9 436.9,508.7 440.0,506.0 434.8,505.1" fill="#000080"/>
<polygon points="504.9,433.7 510.4,451.2 516.0,441.1 510.6,420.8" fill="#85ff7a"/>
<polygon points="455.8,508.5 461.1,509.4 467.2,503.8 462.0,503.0" fill="#000080"/>
<polygon points="602.9,455.8 608.4,455.5 618.2,445.7 612.7,446.0" fill="#00e2ff"/>
<polygon points="499.5,432.1 504.9,433.7 510.6,420.8 505.3,418.3" fill="#8bff74"/>
<polygon points="537.4,474.9 542.8,474.0 548.2,468.6 542.8,469.3" fill="#005dff"/>
<polygon points="436.9,508.7 442.1,509.6 445.3,506.8 440.0,506.0" fill="#000080"/>
<polygon points="461.1,509.4 466.4,510.2 472.5,504.7 467.2,503.8" fill="#000080"/>
<polygon points="564.6,463.2 570.1,461.6 575.3,456.6 569.9,458.1" fill="#00abff"/>
<polygon points="608.4,455.5 614.0,455.3 623.7,445.5 618.2,445.7" fill="#00eaff"/>
<polygon points="442.1,509.6 447.4,510.4 450.5,507.7 445.3,506.8" fill="#000080"/>
<polygon points="466.4,510.2 471.7,511.1 477.8,505.5 472.5,504.7" fill="#000080"/>
<polygon points="542.8,474.0 548.3,472.1 553.7,466.7 548.2,468.6" fill="#006bff"/>
<polygon points="570.1,461.6 575.6,461.4 580.8,456.4 575.3,456.6" fill="#00beff"/>
<polygon points="614.0,455.3 619.7,455.1 629.2,445.2 623.7,445.5" fill="#00f2ff"/>
<polygon points="510.1,470.8 515.5,477.6 521.2,469.7 515.8,461.3" fill="#008fff"/>
<polygon points="447.4,510.4 452.7,511.3 455.8,508.5 450.5,507.7" fill="#000080"/>
<polygon points="515.5,477.6 520.9,481.3 526.6,474.9 521.2,469.7" fill="#005fff"/>
<polygon points="504.6,462.8 510.1,470.8 515.8,461.3 510.4,451.2" fill="#00c9ff"/>
<polygon points="520.9,481.3 526.3,481.4 531.9,475.4 526.6,474.9" fill="#0048ff"/>
<polygon points="575.6,461.4 581.1,461.2 586.3,456.2 580.8,456.4" fill="#00c6ff"/>
<polygon points="548.3,472.1 553.7,470.1 559.1,464.8 553.7,466.7" fill="#0081ff"/>
<polygon points="452.7,511.3 458.0,512.1 461.1,509.4 455.8,508.5" fill="#000080"/>
<polygon points="499.1,448.8 504.6,462.8 510.4,451.2 504.9,433.7" fill="#34ffcb"/>
<polygon points="493.8,448.3 499.1,448.8 504.9,433.7 499.5,432.1" fill="#31ffce"/>
<polygon points="581.1,461.2 586.7,461.1 591.8,456.1 586.3,456.2" fill="#00ceff"/>
<polygon points="526.3,481.4 531.8,480.6 537.4,474.9 531.9,475.4" fill="#004dff"/>
<polygon points="458.0,512.1 463.3,513.0 466.4,510.2 461.1,509.4" fill="#000080"/>
<polygon points="553.7,470.1 559.2,468.4 564.6,463.2 559.1,464.8" fill="#0097ff"/>
<polygon points="463.3,513.0 468.7,513.9 471.7,511.1 466.4,510.2" fill="#000080"/>
<polygon points="586.7,461.1 592.2,460.9 597.3,456.0 591.8,456.1" fill="#00d5ff"/>
<polygon points="531.8,480.6 537.3,479.6 542.8,474.0 537.4,474.9" fill="#005aff"/>
<polygon points="559.2,468.4 564.8,466.7 570.1,461.6 564.6,463.2" fill="#00abff"/>
<polygon points="592.2,460.9 597.8,460.7 602.9,455.8 597.3,456.0" fill="#00dcff"/>
<polygon points="498.8,477.5 504.3,482.5 510.1,470.8 504.6,462.8" fill="#007eff"/>
<polygon points="468.7,513.9 474.0,512.5 477.0,506.7 471.7,511.1" fill="#000080"/>
<polygon points="488.0,470.0 493.4,468.7 499.1,448.8 493.8,448.3" fill="#00acff"/>
<polygon points="504.3,482.5 509.7,486.8 515.5,477.6 510.1,470.8" fill="#005cff"/>
<polygon points="537.3,479.6 542.7,477.5 548.3,472.1 542.8,474.0" fill="#0069ff"/>
<polygon points="493.4,468.7 498.8,477.5 504.6,462.8 499.1,448.8" fill="#00bdff"/>
<polygon points="564.8,466.7 570.3,466.5 575.6,461.4 570.1,461.6" fill="#00bfff"/>
<polygon points="509.7,486.8 515.2,488.3 520.9,481.3 515.5,477.6" fill="#0041ff"/>
<polygon points="597.8,460.7 603.4,460.5 608.4,455.5 602.9,455.8" fill="#00e4ff"/>
<polygon points="515.2,488.3 520.6,487.8 526.3,481.4 520.9,481.3" fill="#003bff"/>
<polygon points="542.7,477.5 548.3,475.5 553.7,470.1 548.3,472.1" fill="#0080ff"/>
<polygon points="570.3,466.5 575.9,466.2 581.1,461.2 575.6,461.4" fill="#00c7ff"/>
<polygon points="603.4,460.5 609.1,460.3 614.0,455.3 608.4,455.5" fill="#00ecff"/>
<polygon points="474.0,512.5 479.2,500.7 482.1,491.9 477.0,506.7" fill="#000092"/>
<polygon points="520.6,487.8 526.1,486.7 531.8,480.6 526.3,481.4" fill="#0045ff"/>
<polygon points="482.1,491.9 487.5,488.9 493.4,468.7 488.0,470.0" fill="#0028ff"/>
<polygon points="575.9,466.2 581.5,466.1 586.7,461.1 581.1,461.2" fill="#00cfff"/>
<polygon points="548.3,475.5 553.8,473.7 559.2,468.4 553.7,470.1" fill="#0097ff"/>
<polygon points="609.1,460.3 614.7,460.1 619.7,455.1 614.0,455.3" fill="#00f4ff"/>
<polygon points="487.5,488.9 493.0,492.4 498.8,477.5 493.4,468.7" fill="#0047ff"/>
<polygon points="493.0,492.4 498.4,494.4 504.3,482.5 498.8,477.5" fill="#0032ff"/>
<polygon points="581.5,466.1 587.1,466.0 592.2,460.9 586.7,461.1" fill="#00d6ff"/>
<polygon points="526.1,486.7 531.6,485.4 537.3,479.6 531.8,480.6" fill="#0055ff"/>
<polygon points="498.4,494.4 503.9,496.1 509.7,486.8 504.3,482.5" fill="#0029ff"/>
<polygon points="553.8,473.7 559.4,471.8 564.8,466.7 559.2,468.4" fill="#00abff"/>
<polygon points="479.2,500.7 484.5,497.0 487.5,488.9 482.1,491.9" fill="#0000f7"/>
<polygon points="587.1,466.0 592.7,465.8 597.8,460.7 592.2,460.9" fill="#00ddff"/>
<polygon points="503.9,496.1 509.3,495.5 515.2,488.3 509.7,486.8" fill="#0022ff"/>
<polygon points="531.6,485.4 537.1,483.2 542.7,477.5 537.3,479.6" fill="#0066ff"/>
<polygon points="559.4,471.8 565.0,471.6 570.3,466.5 564.8,466.7" fill="#00c0ff"/>
<polygon points="484.5,497.0 490.0,498.6 493.0,492.4 487.5,488.9" fill="#001dff"/>
<polygon points="592.7,465.8 598.4,465.6 603.4,460.5 597.8,460.7" fill="#00e5ff"/>
<polygon points="509.3,495.5 514.8,494.3 520.6,487.8 515.2,488.3" fill="#002dff"/>
<polygon points="537.1,483.2 542.7,481.0 548.3,475.5 542.7,477.5" fill="#007eff"/>
<polygon points="490.0,498.6 495.4,499.5 498.4,494.4 493.0,492.4" fill="#0016ff"/>
<polygon points="565.0,471.6 570.6,471.4 575.9,466.2 570.3,466.5" fill="#00c9ff"/>
<polygon points="598.4,465.6 604.0,465.4 609.1,460.3 603.4,460.5" fill="#00edff"/>
<polygon points="514.8,494.3 520.3,492.8 526.1,486.7 520.6,487.8" fill="#003dff"/>
<polygon points="495.4,499.5 500.9,500.3 503.9,496.1 498.4,494.4" fill="#0016ff"/>
<polygon points="570.6,471.4 576.2,471.2 581.5,466.1 575.9,466.2" fill="#00d1ff"/>
<polygon points="542.7,481.0 548.3,479.0 553.8,473.7 548.3,475.5" fill="#0096ff"/>
<polygon points="604.0,465.4 609.7,465.2 614.7,460.1 609.1,460.3" fill="#00f5ff"/>
<polygon points="500.9,500.3 506.4,498.9 509.3,495.5 503.9,496.1" fill="#0016ff"/>
<polygon points="520.3,492.8 525.9,491.3 531.6,485.4 526.1,486.7" fill="#0050ff"/>
<polygon points="576.2,471.2 581.8,471.1 587.1,466.0 581.5,466.1" fill="#00d8ff"/>
<polygon points="548.3,479.0 553.9,477.0 559.4,471.8 553.8,473.7" fill="#00acff"/>
<polygon points="506.4,498.9 511.9,497.5 514.8,494.3 509.3,495.5" fill="#0028ff"/>
<polygon points="581.8,471.1 587.5,470.9 592.7,465.8 587.1,466.0" fill="#00dfff"/>
<polygon points="525.9,491.3 531.4,489.0 537.1,483.2 531.6,485.4" fill="#0063ff"/>
<polygon points="553.9,477.0 559.5,476.7 565.0,471.6 559.4,471.8" fill="#00c2ff"/>
<polygon points="587.5,470.9 593.2,470.8 598.4,465.6 592.7,465.8" fill="#00e7ff"/>
<polygon points="511.9,497.5 517.4,495.9 520.3,492.8 514.8,494.3" fill="#003bff"/>
<polygon points="531.4,489.0 537.0,486.6 542.7,481.0 537.1,483.2" fill="#007cff"/>
<polygon points="559.5,476.7 565.1,476.5 570.6,471.4 565.0,471.6" fill="#00cbff"/>
<polygon points="593.2,470.8 598.9,470.6 604.0,465.4 598.4,465.6" fill="#00efff"/>
<polygon points="517.4,495.9 523.0,494.2 525.9,491.3 520.3,492.8" fill="#004eff"/>
<polygon points="565.1,476.5 570.8,476.3 576.2,471.2 570.6,471.4" fill="#00d3ff"/>
<polygon points="537.0,486.6 542.6,484.4 548.3,479.0 542.7,481.0" fill="#0095ff"/>
<polygon points="598.9,470.6 604.6,470.4 609.7,465.2 604.0,465.4" fill="#00f7ff"/>
<polygon points="523.0,494.2 528.6,491.8 531.4,489.0 525.9,491.3" fill="#0062ff"/>
<polygon points="570.8,476.3 576.5,476.2 581.8,471.1 576.2,471.2" fill="#00dbff"/>
<polygon points="542.6,484.4 548.3,482.3 553.9,477.0 548.3,479.0" fill="#00acff"/>
<polygon points="576.5,476.2 582.2,476.1 587.5,470.9 581.8,471.1" fill="#00e2ff"/>
<polygon points="528.6,491.8 534.2,489.4 537.0,486.6 531.4,489.0" fill="#007bff"/>
<polygon points="548.3,482.3 553.9,482.0 559.5,476.7 553.9,477.0" fill="#00c4ff"/>
<polygon points="582.2,476.1 587.9,475.9 593.2,470.8 587.5,470.9" fill="#00eaff"/>
<polygon points="534.2,489.4 539.8,487.2 542.6,484.4 537.0,486.6" fill="#0094ff"/>
<polygon points="553.9,482.0 559.6,481.7 565.1,476.5 559.5,476.7" fill="#00cdff"/>
<polygon points="587.9,475.9 593.7,475.8 598.9,470.6 593.2,470.8" fill="#00f1ff"/>
<polygon points="559.6,481.7 565.3,481.5 570.8,476.3 565.1,476.5" fill="#00d6ff"/>
<polygon points="539.8,487.2 545.5,485.0 548.3,482.3 542.6,484.4" fill="#00acff"/>
<polygon points="593.7,475.8 599.5,475.6 604.6,470.4 598.9,470.6" fill="#00f9ff"/>
<polygon points="565.3,481.5 571.1,481.4 576.5,476.2 570.8,476.3" fill="#00ddff"/>
<polygon points="545.5,485.0 551.1,484.6 553.9,482.0 548.3,482.3" fill="#00c4ff"/>
<polygon points="571.1,481.4 576.8,481.3 582.2,476.1 576.5,476.2" fill="#00e5ff"/>
<polygon points="551.1,484.6 556.8,484.3 559.6,481.7 553.9,482.0" fill="#00ceff"/>
<polygon points="576.8,481.3 582.6,481.1 587.9,475.9 582.2,476.1" fill="#00ecff"/>
<polygon points="556.8,484.3 562.6,484.2 565.3,481.5 559.6,481.7" fill="#00d6ff"/>
<polygon points="582.6,481.1 588.4,481.0 593.7,475.8 587.9,475.9" fill="#00f4ff"/>
<polygon points="562.6,484.2 568.3,484.1 571.1,481.4 565.3,481.5" fill="#00deff"/>
<polygon points="588.4,481.0 594.2,480.9 599.5,475.6 593.7,475.8" fill="#00fbff"/>
<polygon points="568.3,484.1 574.1,484.0 576.8,481.3 571.1,481.4" fill="#00e5ff"/>
<polygon points="574.1,484.0 579.9,483.8 582.6,481.1 576.8,481.3" fill="#00edff"/>
<polygon points="579.9,483.8 585.7,483.7 588.4,481.0 582.6,481.1" fill="#00f5ff"/>
<polygon points="585.7,483.7 591.5,483.6 594.2,480.9 588.4,481.0" fill="#00fcff"/>
</g>
<line x1="412.73" y1="508.12" x2="407.89" y2="355.34" stroke="#222" stroke-width="1.1" />
<line x1="407.89" y1="355.34" x2="482.46" y2="307.33" stroke="#222" stroke-width="1.1" />
<line x1="482.46" y1="307.33" x2="650.64" y2="323.92" stroke="#222" stroke-width="1.1" />
<line x1="650.64" y1="323.92" x2="646.13" y2="470.65" stroke="#222" stroke-width="1.1" />
<line x1="412.73" y1="508.12" x2="588.03" y2="536.59" stroke="#222" stroke-width="1.1" />
<line x1="588.03" y1="536.59" x2="646.13" y2="470.65" stroke="#222" stroke-width="1.1" />
<line x1="408.23" y1="508.12" x2="412.73" y2="508.12" stroke="#222" stroke-width="1.1" />
<line x1="409.06" y1="471.07" x2="411.56" y2="471.07" stroke="#222" stroke-width="1.1" />
<line x1="405.86" y1="433.27" x2="410.36" y2="433.27" stroke="#222" stroke-width="1.1" />
<line x1="406.64" y1="394.70" x2="409.14" y2="394.70" stroke="#222" stroke-width="1.1" />
<line x1="403.39" y1="355.34" x2="407.89" y2="355.34" stroke="#222" stroke-width="1.1" />
<text x="403.2" y="513.3" font-size="15" text-anchor="end" fill="#111" >1.0</text>
<text x="400.9" y="438.5" font-size="15" text-anchor="end" fill="#111" >2.0</text>
<text x="398.4" y="360.5" font-size="15" text-anchor="end" fill="#111" >3.0</text>
<line x1="412.73" y1="508.12" x2="410.50" y2="510.01" stroke="#222" stroke-width="1.1" />
<line x1="433.66" y1="511.52" x2="429.79" y2="514.90" stroke="#222" stroke-width="1.1" />
<line x1="454.86" y1="514.97" x2="452.72" y2="516.89" stroke="#222" stroke-width="1.1" />
<line x1="476.33" y1="518.45" x2="472.63" y2="521.91" stroke="#222" stroke-width="1.1" />
<line x1="498.09" y1="521.98" x2="496.04" y2="523.96" stroke="#222" stroke-width="1.1" />
<line x1="520.13" y1="525.56" x2="516.61" y2="529.10" stroke="#222" stroke-width="1.1" />
<line x1="542.46" y1="529.19" x2="540.52" y2="531.21" stroke="#222" stroke-width="1.1" />
<line x1="565.10" y1="532.87" x2="561.76" y2="536.49" stroke="#222" stroke-width="1.1" />
<line x1="588.03" y1="536.59" x2="586.21" y2="538.66" stroke="#222" stroke-width="1.1" />
<line x1="588.03" y1="536.59" x2="591.96" y2="537.23" stroke="#222" stroke-width="1.1" />
<line x1="598.56" y1="524.64" x2="605.86" y2="525.80" stroke="#222" stroke-width="1.1" />
<line x1="608.72" y1="513.11" x2="612.54" y2="513.70" stroke="#222" stroke-width="1.1" />
<line x1="618.55" y1="501.96" x2="625.64" y2="503.03" stroke="#222" stroke-width="1.1" />
<line x1="628.04" y1="491.18" x2="631.76" y2="491.72" stroke="#222" stroke-width="1.1" />
<line x1="637.23" y1="480.74" x2="644.13" y2="481.74" stroke="#222" stroke-width="1.1" />
<line x1="646.13" y1="470.65" x2="649.74" y2="471.16" stroke="#222" stroke-width="1.1" />
<text x="426.3" y="531.2" font-size="15" text-anchor="middle" fill="#111" >0.4</text>
<text x="472.3" y="540.6" font-size="15" text-anchor="middle" fill="#111" >0.6</text>
<text x="513.1" y="545.8" font-size="15" text-anchor="middle" fill="#111" >0.8</text>
<text x="559.9" y="550.2" font-size="15" text-anchor="middle" fill="#111" >1.0</text>
<text x="619.5" y="530.3" font-size="15" text-anchor="middle" fill="#111" >100</text>
<text x="639.0" y="508.3" font-size="15" text-anchor="middle" fill="#111" >300</text>
<text x="656.6" y="486.6" font-size="15" text-anchor="middle" fill="#111" >500</text>
<text x="483.2" y="558.6" font-size="15" text-anchor="middle" fill="#111" ><tspan font-style="italic" font-family="Liberation Serif">λ</tspan> (μm)</text>
<text transform="translate(671.5,512) rotate(-57)" font-size="15" text-anchor="middle" fill="#111"><tspan font-style="italic">d</tspan> (μm)</text>
<text transform="translate(370.5,432.3) rotate(-90)" font-size="15" text-anchor="middle" fill="#111"><tspan font-family="Liberation Serif" font-size="16">Φ</tspan>/<tspan font-family="Liberation Serif" font-size="16">Φ</tspan><tspan font-size="11" dy="3">0</tspan></text>
<text x="356.0" y="303.0" font-size="17" text-anchor="start" fill="#000" font-weight="bold" >d</text>
</svg></body></html>
